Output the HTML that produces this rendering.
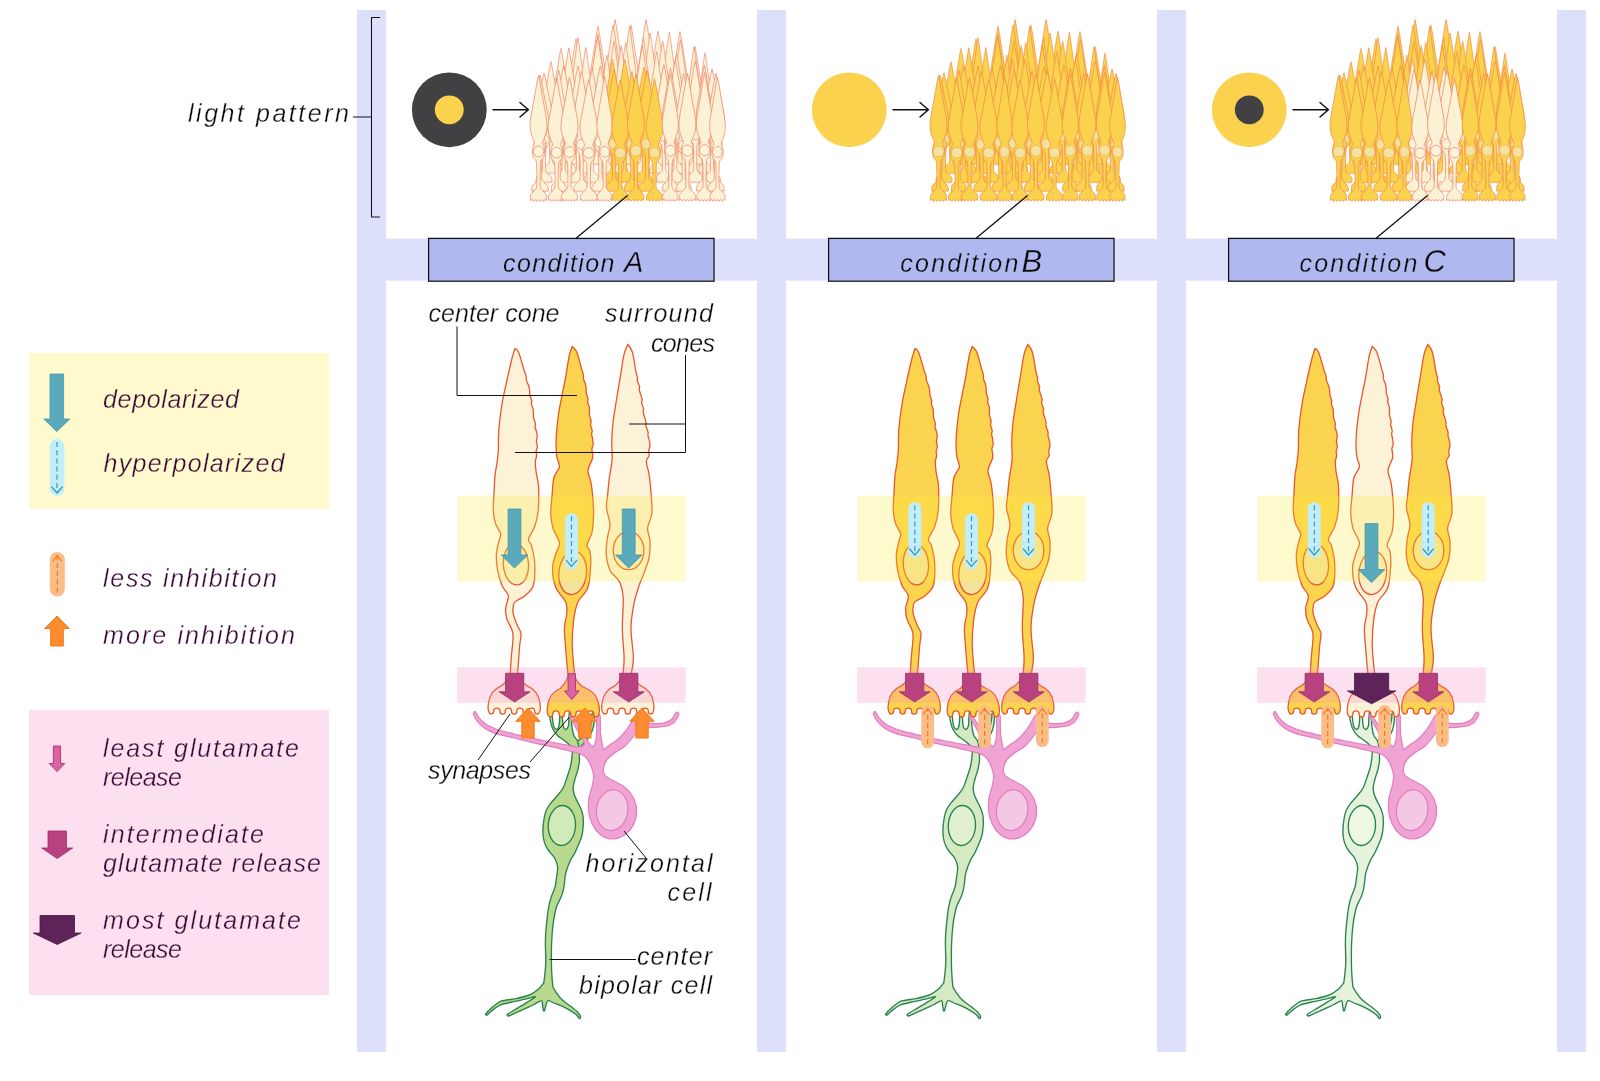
<!DOCTYPE html>
<html><head><meta charset="utf-8"><title>Center-surround cone responses</title>
<style>
html,body{margin:0;padding:0;background:#fff;}
body{width:1600px;height:1081px;overflow:hidden;font-family:"Liberation Sans",sans-serif;}
svg{display:block;will-change:transform;}
text{font-family:"Liberation Sans",sans-serif;font-style:italic;}
.lb{fill:#0a0a0a;}
.lg{fill:#3a0a38;}
</style></head><body>
<svg width="1600" height="1081" viewBox="0 0 1600 1081">
<defs><g id="mcl"><path d="M0,0C0.2,1.3 1,5 1.5,8C2,11 2.5,14.7 3,18C3.5,21.3 4.1,24.7 4.6,28C5.1,31.3 5.7,34.8 6.2,38C6.7,41.2 7.2,44.2 7.4,47C7.6,49.8 7.5,52.5 7.2,55C6.9,57.5 6,59.9 5.4,62C4.8,64.1 3.7,66 3.6,67.5C3.5,69 4.5,69.5 4.8,71C5.1,72.5 5.5,74.7 5.4,76.5C5.3,78.3 5,80.4 4.4,82C3.8,83.6 2.5,83.8 2,86C1.5,88.2 1.6,91.8 1.5,95C1.4,98.2 1.4,102.2 1.4,105C1.4,107.8 1.3,110.3 1.6,112C1.9,113.7 2.6,113.9 3.4,115C4.2,116.1 5.8,117.3 6.4,118.5C7,119.7 7.1,121.4 7.2,122L7.0,125.2L5.6,124L4.4,126L2.8,124.2L1.4,126L0,124.2L-1.4,126L-2.8,124.2L-4.4,126L-5.6,124L-7.0,125.2L-7.2,122C-7.1,121.4 -7,119.7 -6.4,118.5C-5.8,117.3 -4.2,116.1 -3.4,115C-2.6,113.9 -1.9,113.7 -1.6,112C-1.3,110.3 -1.4,107.8 -1.4,105C-1.4,102.2 -1.4,98.2 -1.5,95C-1.6,91.8 -1.5,88.2 -2,86C-2.5,83.8 -3.8,83.6 -4.4,82C-5,80.4 -5.3,78.3 -5.4,76.5C-5.5,74.7 -5.1,72.5 -4.8,71C-4.5,69.5 -3.5,69 -3.6,67.5C-3.7,66 -4.8,64.1 -5.4,62C-6,59.9 -6.9,57.5 -7.2,55C-7.5,52.5 -7.6,49.8 -7.4,47C-7.2,44.2 -6.7,41.2 -6.2,38C-5.7,34.8 -5.1,31.3 -4.6,28C-4.1,24.7 -3.5,21.3 -3,18C-2.5,14.7 -2,11 -1.5,8C-1,5 -0.2,1.3 0,0Z" fill="#fbf1d4" stroke="#ef8468" stroke-width="0.7"/><ellipse cx="0" cy="76" rx="4.7" ry="5.4" fill="#fbf3da" stroke="#ef8468" stroke-width="0.7"/></g><g id="mcs"><path d="M0,0C0.2,1.3 1,5 1.5,8C2,11 2.5,14.7 3,18C3.5,21.3 4.1,24.7 4.6,28C5.1,31.3 5.7,34.8 6.2,38C6.7,41.2 7.2,44.2 7.4,47C7.6,49.8 7.5,52.5 7.2,55C6.9,57.5 6,59.9 5.4,62C4.8,64.1 3.7,66 3.6,67.5C3.5,69 4.5,69.5 4.8,71C5.1,72.5 5.5,74.7 5.4,76.5C5.3,78.3 5,80.4 4.4,82C3.8,83.6 2.5,83.8 2,86C1.5,88.2 1.6,91.8 1.5,95C1.4,98.2 1.4,102.2 1.4,105C1.4,107.8 1.3,110.3 1.6,112C1.9,113.7 2.6,113.9 3.4,115C4.2,116.1 5.8,117.3 6.4,118.5C7,119.7 7.1,121.4 7.2,122L7.0,125.2L5.6,124L4.4,126L2.8,124.2L1.4,126L0,124.2L-1.4,126L-2.8,124.2L-4.4,126L-5.6,124L-7.0,125.2L-7.2,122C-7.1,121.4 -7,119.7 -6.4,118.5C-5.8,117.3 -4.2,116.1 -3.4,115C-2.6,113.9 -1.9,113.7 -1.6,112C-1.3,110.3 -1.4,107.8 -1.4,105C-1.4,102.2 -1.4,98.2 -1.5,95C-1.6,91.8 -1.5,88.2 -2,86C-2.5,83.8 -3.8,83.6 -4.4,82C-5,80.4 -5.3,78.3 -5.4,76.5C-5.5,74.7 -5.1,72.5 -4.8,71C-4.5,69.5 -3.5,69 -3.6,67.5C-3.7,66 -4.8,64.1 -5.4,62C-6,59.9 -6.9,57.5 -7.2,55C-7.5,52.5 -7.6,49.8 -7.4,47C-7.2,44.2 -6.7,41.2 -6.2,38C-5.7,34.8 -5.1,31.3 -4.6,28C-4.1,24.7 -3.5,21.3 -3,18C-2.5,14.7 -2,11 -1.5,8C-1,5 -0.2,1.3 0,0Z" fill="#fbd24e" stroke="#f18a46" stroke-width="0.7"/><ellipse cx="0" cy="76" rx="4.7" ry="5.4" fill="#f3e2a0" stroke="#f09a52" stroke-width="0.5"/></g></defs>
<rect x="0" y="0" width="1600" height="1081" fill="#fff"/>
<rect x="357" y="10" width="29" height="1042" fill="#dde0fb"/>
<rect x="757" y="10" width="29" height="1042" fill="#dde0fb"/>
<rect x="1157" y="10" width="29" height="1042" fill="#dde0fb"/>
<rect x="1557" y="10" width="29" height="1042" fill="#dde0fb"/>
<rect x="357" y="238.7" width="1229" height="41.9" fill="#dde0fb"/>
<rect x="29" y="353" width="300" height="156" fill="#fffacd"/>
<rect x="29" y="710" width="300" height="285" fill="#fde0ef"/>
<path d="M50,374H63.6V419H69.8L56.8,431.5L43.8,419H50Z" fill="#5baabc" stroke="#3f97ab" stroke-width="0.8" stroke-linejoin="round"/><rect x="49.7" y="439" width="14.6" height="57" rx="7.3" fill="#c1eefa"/><path d="M57,442V493" fill="none" stroke="#3f97ab" stroke-width="1.2" stroke-dasharray="5 3.2"/><path d="M51.8,487L57,493L62.2,487" fill="none" stroke="#3f97ab" stroke-width="1.2" stroke-linecap="round" stroke-linejoin="round"/><rect x="49.8" y="552" width="15" height="44.5" rx="7.5" fill="#fbbd88"/><path d="M57.3,592.5V555.5" fill="none" stroke="#f57a17" stroke-width="1.2" stroke-dasharray="5 3.2"/><path d="M53.1,561L57.3,555.5L61.5,561" fill="none" stroke="#f57a17" stroke-width="1.2" stroke-linecap="round" stroke-linejoin="round"/><path d="M50.7,646H63.3V628.5H69.3L57,616L44.7,628.5H50.7Z" fill="#fb8c30" stroke="#f57a17" stroke-width="1" stroke-linejoin="round"/><path d="M53.4,746H60.6V763.5H64.8L57,771.5L49.2,763.5H53.4Z" fill="#dc62a2" stroke="#b03a7b" stroke-width="1" stroke-linejoin="round"/><path d="M48,831H66.5V848H72.7L57.2,858.6L41.7,848H48Z" fill="#b7427f" stroke="#9d2f6b" stroke-width="0.8" stroke-linejoin="round"/><path d="M40,915.5H74.5V933H81.2L57.2,944.5L33.2,933H40Z" fill="#5e2358" stroke="#4a1745" stroke-width="0.8" stroke-linejoin="round"/><text x="103" y="408" font-size="25" class="lg" textLength="136" lengthAdjust="spacing" stroke="#fffacd" stroke-width="0.3">depolarized</text><text x="103.5" y="472" font-size="25" class="lg" textLength="181" lengthAdjust="spacing" stroke="#fffacd" stroke-width="0.3">hyperpolarized</text><text x="103" y="587" font-size="25" class="lg" textLength="174" lengthAdjust="spacing" stroke="#fff" stroke-width="0.3">less inhibition</text><text x="103" y="644" font-size="25" class="lg" textLength="192" lengthAdjust="spacing" stroke="#fff" stroke-width="0.3">more inhibition</text><text x="103" y="757" font-size="25" class="lg" textLength="196" lengthAdjust="spacing" stroke="#fde0ef" stroke-width="0.3">least glutamate</text><text x="103" y="786" font-size="25" class="lg" textLength="79" lengthAdjust="spacing" stroke="#fde0ef" stroke-width="0.3">release</text><text x="103" y="843" font-size="25" class="lg" textLength="161" lengthAdjust="spacing" stroke="#fde0ef" stroke-width="0.3">intermediate</text><text x="103" y="872" font-size="25" class="lg" textLength="218" lengthAdjust="spacing" stroke="#fde0ef" stroke-width="0.3">glutamate release</text><text x="103" y="929" font-size="25" class="lg" textLength="198" lengthAdjust="spacing" stroke="#fde0ef" stroke-width="0.3">most glutamate</text><text x="103" y="958" font-size="25" class="lg" textLength="79" lengthAdjust="spacing" stroke="#fde0ef" stroke-width="0.3">release</text>
<path d="M380,17.5H371.5V217H380M353,117H371.5" fill="none" stroke="#111" stroke-width="1.05"/>
<g transform="translate(0,0)">
<circle cx="449.3" cy="109.8" r="37.4" fill="#414042"/><circle cx="449.3" cy="109.8" r="14.4" fill="#fbd24e"/><path d="M493,109.8H528M520,102.5L528.4,109.8L520,117" fill="none" stroke="#111" stroke-width="1.5" stroke-linecap="round" stroke-linejoin="round"/><use href="#mcl" transform="translate(598,26.1) scale(0.98,0.962)"/><use href="#mcl" transform="translate(615.1,19.6) scale(0.98,1.013)"/><use href="#mcl" transform="translate(631,25) scale(0.93,0.971)"/><use href="#mcl" transform="translate(646.1,19.6) scale(1.00,1.013)"/><use href="#mcl" transform="translate(658,31.2) scale(0.94,0.922)"/><use href="#mcl" transform="translate(576,38.8) scale(0.95,0.932)"/><use href="#mcl" transform="translate(597.9,34.2) scale(0.89,0.969)"/><use href="#mcl" transform="translate(613.1,25.1) scale(0.98,1.041)"/><use href="#mcl" transform="translate(629.6,26.3) scale(0.88,1.032)"/><use href="#mcl" transform="translate(650.2,33) scale(0.86,0.978)"/><use href="#mcl" transform="translate(669.3,32.2) scale(0.89,0.985)"/><use href="#mcl" transform="translate(680,31.5) scale(1.00,0.991)"/><use href="#mcl" transform="translate(561,48.4) scale(1.01,0.928)"/><use href="#mcl" transform="translate(578,37.5) scale(0.89,1.014)"/><use href="#mcl" transform="translate(597.6,37.4) scale(1.01,1.015)"/><use href="#mcl" transform="translate(614,41.3) scale(0.92,0.984)"/><use href="#mcl" transform="translate(625.7,42.8) scale(0.87,0.972)"/><use href="#mcl" transform="translate(643.4,38.3) scale(0.86,1.008)"/><use href="#mcl" transform="translate(662.7,40.9) scale(0.91,0.987)"/><use href="#mcl" transform="translate(680.5,39.5) scale(0.91,0.998)"/><use href="#mcl" transform="translate(695,46.5) scale(0.97,0.943)"/><use href="#mcl" transform="translate(551,61.7) scale(1.02,0.893)"/><use href="#mcl" transform="translate(568.8,47.8) scale(1.00,1.004)"/><use href="#mcl" transform="translate(585.8,47.4) scale(0.92,1.007)"/><use href="#mcl" transform="translate(606.9,55.2) scale(0.87,0.945)"/><use href="#mcl" transform="translate(621.2,45.7) scale(0.89,1.020)"/><use href="#mcl" transform="translate(642.3,46) scale(1.01,1.018)"/><use href="#mcl" transform="translate(656.6,51.8) scale(0.94,0.973)"/><use href="#mcl" transform="translate(676.7,54.2) scale(0.98,0.953)"/><use href="#mcl" transform="translate(694,46.7) scale(0.87,1.013)"/><use href="#mcl" transform="translate(705,52.8) scale(0.87,0.964)"/><use href="#mcl" transform="translate(544,72.9) scale(1.12,0.876)"/><use href="#mcl" transform="translate(563.7,65.9) scale(1.17,0.932)"/><use href="#mcl" transform="translate(577.9,66.2) scale(1.07,0.930)"/><use href="#mcl" transform="translate(592.1,68.5) scale(1.04,0.911)"/><use href="#mcs" transform="translate(612.5,59.3) scale(1.05,0.984)"/><use href="#mcs" transform="translate(624.8,59.4) scale(1.11,0.983)"/><use href="#mcs" transform="translate(644.1,66.9) scale(1.12,0.924)"/><use href="#mcl" transform="translate(663.9,64.7) scale(1.09,0.941)"/><use href="#mcl" transform="translate(675.3,60.1) scale(1.03,0.977)"/><use href="#mcl" transform="translate(695.2,60.9) scale(1.04,0.971)"/><use href="#mcl" transform="translate(712,69) scale(1.17,0.907)"/><use href="#mcl" transform="translate(540,75) scale(1.15,0.931)"/><use href="#mcl" transform="translate(558.8,70) scale(1.04,0.971)"/><use href="#mcl" transform="translate(581.6,71.4) scale(1.09,0.960)"/><use href="#mcl" transform="translate(600.3,65.8) scale(1.18,1.004)"/><use href="#mcs" transform="translate(614.1,69.4) scale(1.14,0.975)"/><use href="#mcs" transform="translate(631.9,71.4) scale(1.08,0.960)"/><use href="#mcs" transform="translate(647.1,70.5) scale(1.18,0.966)"/><use href="#mcl" transform="translate(670.4,68) scale(1.10,0.986)"/><use href="#mcl" transform="translate(683.7,73.4) scale(1.06,0.944)"/><use href="#mcl" transform="translate(704.4,65.6) scale(1.08,1.005)"/><use href="#mcl" transform="translate(716,73.4) scale(1.14,0.943)"/><use href="#mcl" transform="translate(538.5,75.4) scale(1.13,1.000)"/><use href="#mcl" transform="translate(556.6,78.7) scale(1.13,0.973)"/><use href="#mcl" transform="translate(569.5,77.4) scale(1.14,0.983)"/><use href="#mcl" transform="translate(588.7,79.4) scale(1.17,0.968)"/><use href="#mcl" transform="translate(604.6,76.5) scale(1.02,0.991)"/><use href="#mcs" transform="translate(620.2,79.8) scale(1.13,0.964)"/><use href="#mcs" transform="translate(635.9,74.1) scale(1.12,1.009)"/><use href="#mcs" transform="translate(654.5,78.8) scale(1.12,0.972)"/><use href="#mcl" transform="translate(670.3,74) scale(1.08,1.010)"/><use href="#mcl" transform="translate(687.4,73.6) scale(1.13,1.013)"/><use href="#mcl" transform="translate(704.6,72.7) scale(1.10,1.020)"/><use href="#mcl" transform="translate(717.5,77) scale(1.05,0.986)"/><path d="M627.5,195.5L575.8,238.5" stroke="#111" stroke-width="1.3" fill="none"/><rect x="428.6" y="238.4" width="285.4" height="42.8" fill="#b1b8ef" stroke="#111" stroke-width="1.25"/><g fill="#b9d98e" stroke="#27844f" stroke-width="1.35" stroke-linejoin="round" stroke-linecap="round"><path d="M576,742C577.3,741 581.8,738.3 584,736C586.2,733.7 588.2,730.8 589.5,728C590.8,725.2 591.2,721.4 591.6,719C592,716.6 591.6,714.5 592,713.6C592.4,712.7 593.6,712.5 594,713.6C594.4,714.7 594.6,717.3 594.4,720C594.1,722.7 593.7,726.7 592.5,730C591.3,733.3 589.1,737.2 587,740C584.9,742.8 581.2,745.8 580,747"/><path d="M549.6,711.6C549.7,713 549.7,717.2 550.2,720C550.7,722.8 551.3,725.9 552.5,728.5C553.7,731.1 555.4,733.4 557.5,735.5C559.6,737.6 562.7,739.1 565,741C567.3,742.9 570.3,745 571.5,747C572.7,749 572.4,749.9 572.3,753C572.1,756.1 571.5,761.6 570.6,765.8C569.7,770 568,774.3 566.8,778C565.5,781.7 564.7,785 563.1,788C561.5,791 559,793.5 557,796C555,798.5 552.8,800.5 551,802.8C549.2,805.1 547.5,807.5 546.4,810C545.3,812.5 544.8,814.8 544.2,818C543.6,821.2 543.1,825.7 543,829C542.9,832.3 542.9,835.2 543.4,838C543.9,840.8 544.7,843.6 545.8,846C546.9,848.4 548.5,850.4 550,852.4C551.5,854.4 553.3,855.6 554.6,858C555.9,860.4 557.3,863.6 557.6,866.8C557.9,870 557,873.6 556.6,877C556.2,880.4 555.8,884.2 555,887.2C554.2,890.2 552.9,892.6 552,895C551.1,897.4 550.6,898.7 549.9,901.4C549.2,904.1 548.5,907.6 548,911C547.5,914.4 547.2,918.3 546.8,921.8C546.4,925.3 546,928.6 545.8,932C545.6,935.4 545.4,938.6 545.4,942.1C545.4,945.6 545.5,949.6 545.6,953C545.7,956.4 545.9,959.2 545.8,962.5C545.7,965.8 545.3,969.6 545,973C544.7,976.4 544,981.2 543.8,982.8C543.1,983.6 539.7,988.2 538,989.6C536.3,991 532.1,994 529.5,995C526.9,996 519.3,997.9 516,998.6C512.7,999.3 503.8,1000.2 501,1001.2C498.2,1002.2 493.8,1006.1 492,1007.6C490.2,1009.1 486.1,1013.6 485.6,1014.4C485.1,1015.2 486.7,1015.2 487.6,1014.6C488.5,1014 492,1010.5 493.5,1009.4C495,1008.3 498.3,1005.7 500.5,1004.8C502.7,1003.9 509.1,1002.7 512,1002C514.9,1001.3 522.7,999.8 525.5,999.2C528.3,998.6 535.6,996.2 535.8,996.6C536,997 529.2,1001 527,1002.4C524.8,1003.8 519.3,1007 517,1008.4C514.7,1009.8 508.4,1013.5 507.4,1014.4C506.4,1015.3 507.8,1016.1 508.6,1016C509.4,1015.9 512.8,1014.1 514.5,1013.4C516.2,1012.7 520.8,1010.6 523,1009.6C525.2,1008.6 530.9,1006 533,1005C535.1,1004 540.3,1000.6 541.4,1000.6C542.5,1000.6 542.4,1003.8 542.6,1005C542.8,1006.2 543.2,1010 543.4,1010.6C543.6,1011.2 544.3,1011.1 544.6,1010.4C544.9,1009.7 545.6,1006.2 546,1005C546.4,1003.8 547.3,1000.6 548.2,1000.4C549.1,1000.2 552.4,1002.3 554,1003C555.6,1003.7 560.1,1005.3 562,1006.2C563.9,1007.1 568.4,1009.4 570,1010.4C571.6,1011.4 574.9,1013.6 576,1014.6C577.1,1015.6 579.1,1018.4 579.6,1018.6C580.1,1018.8 580.7,1017.2 580.4,1016.4C580.1,1015.6 578.2,1012.8 577,1011.6C575.8,1010.4 571.9,1007.3 570.2,1006C568.5,1004.7 564.1,1001.6 562.6,1000.2C561.1,998.8 558.1,995.2 557,993.6C555.9,992 553.4,987.7 552.9,986.9C552.8,985.2 552.2,980.4 552,977C551.8,973.6 551.6,970 551.5,966.5C551.4,963 551.4,959.4 551.4,956C551.4,952.6 551.4,949.5 551.5,946.2C551.6,942.9 551.8,939.4 552,936C552.2,932.6 552.5,929.3 552.9,925.8C553.3,922.3 553.9,918.4 554.6,915C555.3,911.6 556,908.3 557,905.5C558,902.7 559.6,900.4 560.6,898C561.6,895.6 562.4,893.9 563.1,891.2C563.8,888.5 564.2,885 564.6,882C565,879 564.9,876.4 565.8,872.9C566.7,869.4 568.7,864 570.2,860.7C571.7,857.4 573.4,855.7 574.8,853C576.2,850.3 577.4,847.2 578.6,844.4C579.8,841.6 581,839.1 581.8,836C582.6,832.9 583,829.3 583.2,826C583.4,822.7 583.4,819 583,816C582.6,813 581.5,810.2 580.6,808C579.8,805.8 578.9,805 577.9,802.8C576.9,800.6 575.2,797.5 574.4,795C573.6,792.5 573.1,790.7 573.2,788C573.3,785.3 574.2,782.1 575,779C575.8,775.9 577.2,772.3 577.9,769.5C578.6,766.7 579.1,764.5 579.4,762C579.6,759.5 579.5,757 579.4,754.7C579.3,752.4 579.3,750.3 579,748C578.7,745.7 578.4,743.2 577.5,741C576.6,738.8 574.5,737.3 573.6,735C572.7,732.7 572.4,729.7 572,727C571.6,724.3 571.5,721.3 571.4,719C571.3,716.7 571.3,714 571.3,713C571,711 569.4,711 569.2,713C569.1,714.2 568.9,717.8 568.8,720C568.7,722.2 568.9,724.4 568.4,726C567.9,727.6 566.8,729.3 566,729.5C565.2,729.7 564,728.6 563.4,727C562.8,725.4 562.8,722.2 562.6,720C562.4,717.8 562.3,714.7 562.2,713.6C562,711.6 560,711.6 559.8,713.6C559.8,714.7 559.8,717.9 559.6,720C559.4,722.1 559.3,724.9 558.8,726.5C558.3,728.1 557.3,729.5 556.4,729.4C555.5,729.3 554.2,727.7 553.6,726C553,724.3 552.9,721.3 552.6,719C552.3,716.7 552.1,713.3 552,712.2C551.8,710.4 549.8,710.2 549.6,711.6Z"/><ellipse cx="561.9" cy="825.5" rx="13.6" ry="20" transform="rotate(3 561.9 825.5)" fill="#d2e9b8"/></g><g fill="#f0a4d3" stroke="#e27dbf" stroke-width="1.2" stroke-linejoin="round" stroke-linecap="round"><path d="M475.4,711.6C476.1,712.7 477.6,716 479.4,718.2C481.2,720.4 483.5,722.8 486.4,724.6C489.2,726.5 491.9,727.7 496.5,729.3C501.1,730.9 508,732.5 514,734C520,735.5 526.3,737.1 532.5,738.4C538.7,739.7 545.4,740.9 551,742C556.6,743.1 561.5,744 566,744.8C570.5,745.6 574.9,747.1 578,747C581.1,746.9 584.2,746 584.5,744C584.8,742 581.5,737.8 580,735C578.5,732.2 576.9,729.5 575.5,727C574.1,724.5 572.6,721.9 571.5,720C570.4,718.1 569.1,716.3 568.6,715.6C569,715.5 570,714.2 571,714.8C572,715.4 573.2,717 574.5,719C575.8,721 577.4,723.8 579,726.5C580.6,729.2 582.2,732.2 584,735C585.8,737.8 587.9,741.5 589.5,743.5C591.1,745.5 592.8,746.4 593.5,747C593.9,745.8 595.5,742.8 596,740C596.5,737.2 596.7,733 596.8,730C596.9,727 596.5,724.3 596.5,722C596.5,719.7 596.5,717.4 596.8,716.2C597.1,715 597.8,714.6 598.4,714.6C599,714.6 599.9,714.6 600.2,716.2C600.5,717.8 600.2,721 600.3,724C600.4,727 600.3,730.8 600.6,734C600.9,737.2 601.5,740.3 602,743C602.5,745.7 603.3,748.8 603.6,750C604.5,749.2 606.8,747.2 609,745.5C611.2,743.8 614.5,742.1 617,740C619.5,737.9 621.8,735.6 624,733C626.2,730.4 628.3,727.2 630,724.5C631.7,721.8 633,718.8 634.2,717C635.5,715.2 635.9,713.7 637.5,713.5C639.1,713.3 642.2,714.5 644,716C645.8,717.5 645.8,721.2 648,722.5C650.2,723.8 654,723.6 657,723.6C660,723.6 663.5,723.2 666,722.4C668.5,721.6 670.4,720.6 672,719C673.6,717.4 674.8,713.9 675.8,712.8C676.8,711.7 677.3,711.9 677.8,712.2C678.3,712.5 679.2,713 678.8,714.4C678.4,715.8 677.1,718.8 675.6,720.6C674.1,722.4 672.1,724.2 669.5,725.2C666.9,726.2 663.4,726.5 660,726.9C656.6,727.3 652.2,727.5 649,727.6C645.8,727.7 643.1,726.9 641,727.6C638.9,728.3 638.2,730 636.5,732C634.8,734 633,737.1 631,739.5C629,741.9 627,744.4 624.5,746.5C622,748.6 618.7,750.1 616,752C613.3,753.9 610.4,756 608.5,758C606.6,760 605.2,763 604.6,764C604.4,765.2 603.2,769 603.4,771C603.5,773 603.9,774.4 605.5,776C607.1,777.6 610.1,778.9 613,780.6C615.9,782.3 619.9,783.7 623,786C626.1,788.3 629.3,791.2 631.5,794.5C633.7,797.8 635.5,801.9 636.2,806C636.9,810.1 636.6,815 635.6,819C634.6,823 632.5,827 630,830C627.5,833 623.9,835.7 620.5,837.2C617.1,838.7 613,839.3 609.5,838.8C606,838.3 602.4,836.5 599.5,834C596.6,831.5 594,827.8 592.2,824C590.4,820.2 589.1,815.3 588.6,811C588.1,806.7 588.4,802 589,798C589.6,794 591.2,790.7 592,787C592.8,783.3 593.8,779.5 593.6,776C593.4,772.5 592.2,769 591,766C589.8,763 588.3,760.1 586.5,758C584.7,755.9 581.1,754.2 580,753.5C577.7,753 570.8,751.2 566,750C561.2,748.8 556.6,747.8 551,746.6C545.4,745.4 538.7,744 532.5,742.6C526.3,741.2 520.2,739.5 514,738C507.8,736.5 500.3,735 495.5,733.4C490.7,731.8 488,730.6 485,728.6C482,726.6 479.5,723.9 477.6,721.6C475.7,719.3 474.4,716.6 473.8,715C473.2,713.4 473.5,712.8 473.8,712.2C474.1,711.6 475.1,711.7 475.4,711.6Z"/><ellipse cx="612.2" cy="810.2" rx="15.6" ry="20.4" transform="rotate(8 612.2 810.2)" fill="#f4c8e4"/></g><path d="M514.9,348.5C515.5,349.1 517,348.5 518.6,352.2C520.2,355.9 522.9,366.7 524.2,370.7C525.5,374.7 525.8,374.7 526.1,376.3C526.5,377.9 525.9,378.7 526.4,380.4C526.9,382.1 528.3,384.7 528.9,386.5C529.4,388.3 529.5,389.7 529.7,391.1C529.9,392.5 529.6,393.5 529.9,395C530.2,396.6 531.5,399 531.7,400.5C532,402 531.1,402.4 531.4,403.9C531.6,405.4 532.9,407.8 533.2,409.4C533.5,410.9 533.3,411.9 533.4,413.3C533.5,414.7 533.3,415.9 533.6,417.6C533.9,419.3 535.2,421.8 535.4,423.4C535.7,425 534.8,425.6 535.1,427.2C535.3,428.8 536.6,431.3 536.9,433C537.2,434.7 537.2,435.9 537.1,437.3C537,438.7 536.4,439.8 536.4,441.4C536.5,443.1 537.4,445.5 537.4,447.1C537.4,448.6 536.3,449.2 536.2,450.7C536,452.1 536.7,453.9 536.6,455.8C536.5,457.7 535.4,459.5 535.3,462.3C535.2,465.1 535.7,468.3 536.2,472.5C536.8,476.7 538.3,480.8 538.6,487.3C538.9,493.8 538.7,504.8 538.1,511.3C537.5,517.8 536.4,521.6 534.8,526.3C533.2,530.9 529,536 528.5,539.2C528,542.5 530.6,541.8 531.6,545.8C532.6,549.8 534.4,556.7 534.7,563.3C535,569.9 535,579.9 533.4,585.3C531.8,590.7 528.2,592.8 525.1,595.7C522,598.6 516.5,599.6 514.5,602.5C512.5,605.4 512.6,609.2 513.1,613.2C513.6,617.2 516.4,622.8 517.7,626.2C519,629.6 520.7,630.2 521,633.6C521.3,637 520.1,640 519.6,646.5C519.1,653 518,668.1 517.7,672.4C518.2,678.4 523.7,683.9 527.2,685.9C534.2,688.9 538.9,694.4 539.9,703C540.5,707 540.2,711.5 539.1,712.8C538.5,714.4 535.3,714.6 534.7,712V711C534.7,707.2 528.4,707.2 528.4,711V712C528.4,714.8 523.1,714.8 523.1,712V711C523.1,707.2 516.8,707.2 516.8,711V712C516.8,714.8 511.6,714.8 511.6,712V711C511.6,707.2 505.2,707.2 505.2,711V712C505.2,714.8 500,714.8 500,712V711C500,707.2 493.7,707.2 493.7,711V712C493.1,714.6 489.9,714.4 489.3,712.8C488.2,711.5 487.9,707 488.5,703C489.5,694.4 494.2,688.9 501.2,685.9C504.3,683.9 509.8,678.4 510.3,672.4C510.5,669.6 511,662.3 511.4,655.8C511.8,649.3 513.7,639.8 512.9,633.6C512.1,627.4 508,623.1 506.8,618.8C505.6,614.5 505.4,611.6 505.7,607.7C505.9,603.9 508.9,599.4 508.3,595.7C507.7,592 503.8,590 502,585.5C500.2,581 498.3,574 497.4,568.8C496.5,563.5 496.1,558.8 496.4,554C496.7,549.2 498.5,543.6 499.2,540.2C499.9,536.8 501.2,536.5 500.6,533.7C500,530.9 496.7,527.2 495.5,523.5C494.3,519.8 493.6,516.4 493.3,511.3C493.1,506.2 493.7,499 494,492.8C494.3,486.6 494.6,479.2 495.1,474.3C495.6,469.4 496.5,467.2 497,463.2C497.5,459.2 498,455.9 498.3,450.3C498.6,444.8 498.2,437.6 498.8,429.9C499.4,422.2 500.7,412 502,404C503.3,396 505.1,388.9 506.6,381.8C508.1,374.7 509.8,367.1 511.2,361.5C512.6,355.9 514.3,350.7 514.9,348.5Z" fill="#fbf2d8" stroke="#e9562c" stroke-width="1.3" stroke-linejoin="round"/><g fill="#faefcc" stroke="#e9562c" stroke-width="1.3"><ellipse cx="515.9" cy="564.4" rx="12.6" ry="20.6" transform="rotate(-4 515.9 564.4)"/></g><path d="M572.3,346.3C573.1,347.3 575.3,348.4 576.9,352.2C578.5,356 580.5,365.2 581.6,368.9C582.7,372.6 583,372.9 583.3,374.5C583.6,376.1 583,376.9 583.4,378.5C583.7,380.2 585.1,382.9 585.6,384.6C586.1,386.4 586.1,387.8 586.2,389.2C586.3,390.6 586,391.6 586.3,393.1C586.6,394.7 587.8,397.1 588.1,398.6C588.3,400.1 587.4,400.5 587.6,402C587.9,403.5 589.1,405.9 589.4,407.5C589.7,409 589.5,410.1 589.5,411.4C589.5,412.7 589.2,413.9 589.5,415.5C589.8,417.2 590.9,419.6 591.1,421.2C591.3,422.7 590.4,423.3 590.6,424.8C590.7,426.3 592,428.9 592.2,430.4C592.4,432 591.5,432.6 591.6,434.1C591.7,435.5 592.5,437.4 592.7,439.2C592.9,441 593.2,443.2 593.1,444.8C593,446.4 591.9,447.2 591.9,448.9C591.8,450.5 592.8,453.2 592.8,454.9C592.8,456.7 592.9,456.9 592.1,459.5C591.3,462.1 588.2,466.9 588,470.6C587.8,474.3 590,477.4 590.8,481.7C591.6,486 592.2,491.2 592.7,496.5C593.2,501.8 593.7,507.4 593.6,513.3C593.5,519.2 593.2,526.5 592.1,531.8C591,537 587.5,541.6 587.1,544.8C586.7,548 589.3,548.1 589.9,551.2C590.5,554.3 591.1,557.3 590.8,563.3C590.5,569.3 590.1,580.8 588,587.3C585.9,593.8 580.3,596.5 577.9,602.1C575.5,607.7 574.5,613.2 573.6,620.6C572.7,628 572.1,637.4 572.3,646.5C572.5,655.6 574.3,670.2 574.7,675C575.2,681 580.7,686.5 586.3,688.5C593.3,691.5 598,697 599,705.8C599.6,709.8 599.3,714.3 598.2,715.6C597.6,717.2 594.4,717.4 593.8,714.8V713.8C593.8,710 587.4,710 587.4,713.8V714.8C587.4,717.6 582.2,717.6 582.2,714.8V713.8C582.2,710 575.9,710 575.9,713.8V714.8C575.9,717.6 570.7,717.6 570.7,714.8V713.8C570.7,710 564.3,710 564.3,713.8V714.8C564.3,717.6 559.1,717.6 559.1,714.8V713.8C559.1,710 552.8,710 552.8,713.8V714.8C552.2,717.4 549,717.2 548.4,715.6C547.3,714.3 547,709.8 547.6,705.8C548.6,697 553.3,691.5 560.3,688.5C562,686.5 567.5,681 568,675C567.6,670.9 566.4,658 565.8,650.2C565.2,642.4 564.2,634.2 564.4,628C564.6,621.8 566.6,617.5 566.8,613.2C567,608.9 567.6,606.4 565.8,602.1C563.9,597.8 557.9,592.8 555.7,587.3C553.5,581.8 552.5,574.3 552.5,568.8C552.5,563.2 554.6,558.3 555.7,554C556.9,549.7 559.9,547.2 559.4,542.9C558.9,538.6 554.3,533 552.9,528.1C551.5,523.2 550.9,518.6 550.7,513.3C550.6,508 551.5,502.4 552,496.5C552.5,490.6 552.6,482.9 553.8,478C555,473.1 558.9,470.6 559.4,466.9C559.9,463.2 557.1,460.7 556.6,455.8C556.1,450.9 555.9,444.1 556.2,437.3C556.5,430.5 557.4,422.2 558.4,415.1C559.4,408 560.9,401.3 562.1,394.8C563.3,388.3 564.6,382.8 565.8,376.3C567,369.8 568.1,360.9 569.2,355.9C570.3,350.9 571.8,347.9 572.3,346.3Z" fill="#fbd44f" stroke="#e9562c" stroke-width="1.3" stroke-linejoin="round"/><g fill="#f3e29e" stroke="#e9562c" stroke-width="1.3"><ellipse cx="572.7" cy="572.9" rx="13.8" ry="21.7" transform="rotate(6 572.7 572.9)"/></g><path d="M627.8,344.4C628.6,345.7 631,347.5 632.4,352.2C633.8,356.9 635.2,368.4 636.1,372.6C637,376.8 637.4,376.1 637.6,377.5C637.8,378.9 637.1,379.5 637.4,381C637.7,382.5 639.2,384.9 639.5,386.4C639.8,387.9 639.1,388.5 639.3,389.9C639.5,391.3 640.3,393.2 640.8,394.8C641.3,396.4 641.9,398.3 642.1,399.7C642.2,401.1 641.5,401.7 641.7,403.2C642,404.7 643.3,407.1 643.6,408.6C643.8,410.1 643.1,410.7 643.2,412.1C643.4,413.5 644,415.3 644.5,417C645,418.7 645.8,420.8 646,422.3C646.3,423.8 645.6,424.5 646,426.1C646.3,427.7 647.7,430.3 648,431.9C648.4,433.5 647.7,434.2 648,435.7C648.2,437.2 649.2,439.2 649.5,441C649.8,442.8 650.1,444.9 649.9,446.4C649.8,448 648.8,448.8 648.7,450.4C648.5,451.9 649.5,454 649.1,455.8C648.7,457.6 646.3,458.3 646.3,461.4C646.3,464.5 648.3,469.1 649.1,474.3C649.9,479.5 650.5,486.3 651,492.8C651.5,499.3 652.5,507.4 651.9,513.3C651.3,519.2 647.9,523.5 647.6,528.1C647.3,532.7 649.8,536.1 650,541C650.2,545.9 650.2,552.1 649.1,557.7C648,563.3 645,570.1 643.5,574.4C642,578.7 641.3,579 639.8,583.6C638.3,588.2 635.8,594.7 634.3,602.1C632.8,609.5 631.1,618.8 631,628C630.9,637.2 633.3,650.2 633.4,657.6C633.5,665 631.8,669.9 631.5,672.4C632,678.4 637.5,683.9 640.8,685.9C647.8,688.9 652.5,694.4 653.5,703C654.1,707 653.8,711.5 652.7,712.8C652.1,714.4 648.9,714.6 648.3,712V711C648.3,707.2 641.9,707.2 641.9,711V712C641.9,714.8 636.7,714.8 636.7,712V711C636.7,707.2 630.4,707.2 630.4,711V712C630.4,714.8 625.2,714.8 625.2,712V711C625.2,707.2 618.8,707.2 618.8,711V712C618.8,714.8 613.6,714.8 613.6,712V711C613.6,707.2 607.3,707.2 607.3,711V712C606.7,714.6 603.5,714.4 602.9,712.8C601.8,711.5 601.5,707 602.1,703C603.1,694.4 607.8,688.9 614.8,685.9C617.2,683.9 622.7,678.4 623.2,672.4C623.4,669.9 624.2,665 624.1,657.6C624,650.2 622.4,637.9 622.3,628C622.1,618.1 623.7,606.1 623.2,598.4C622.7,590.7 621.7,586.4 619.5,581.8C617.3,577.2 612.4,575.3 610.2,570.7C608,566.1 606.7,559.5 606.2,554C605.8,548.5 606.9,542.3 607.5,537.4C608.1,532.5 610.1,529.3 609.9,524.4C609.7,519.5 606.9,512.6 606.5,508C606.1,503.4 607,501.5 607.5,496.5C608,491.5 608.5,484.2 609.3,478C610.1,471.8 611.7,465.7 612.1,459.5C612.5,453.3 611.6,447.2 611.7,441C611.9,434.8 612.2,429.6 613,422.5C613.8,415.4 615.5,406.2 616.7,398.5C617.9,390.8 619.2,383.7 620.4,376.3C621.6,368.9 622.9,359.4 624.1,354.1C625.3,348.8 627.2,346 627.8,344.4Z" fill="#fbf2d8" stroke="#e9562c" stroke-width="1.3" stroke-linejoin="round"/><g fill="#faefcc" stroke="#e9562c" stroke-width="1.3"><ellipse cx="628.6" cy="550.5" rx="15.3" ry="19.2" transform="rotate(0 628.6 550.5)"/></g><rect x="457.2" y="495.7" width="228.5" height="85.7" fill="#ffeb3c" fill-opacity="0.25"/><rect x="457.2" y="667.3" width="228.5" height="35.4" fill="#f783bf" fill-opacity="0.25"/><path d="M508.1,509H520.9V555H527.8L514.5,568L501.2,555H508.1Z" fill="#5baabc" stroke="#3f97ab" stroke-width="0.8" stroke-linejoin="round"/><rect x="565" y="513.3" width="13" height="56.1" rx="6.5" fill="#c1eefa"/><path d="M571.5,516.3V566.4" fill="none" stroke="#3f97ab" stroke-width="1.2" stroke-dasharray="5 3.2"/><path d="M566.3,560.4L571.5,566.4L576.7,560.4" fill="none" stroke="#3f97ab" stroke-width="1.2" stroke-linecap="round" stroke-linejoin="round"/><path d="M622.3,509H635.1V555H642L628.7,568L615.5,555H622.3Z" fill="#5baabc" stroke="#3f97ab" stroke-width="0.8" stroke-linejoin="round"/><path d="M505.5,673.3H523.8V691.8H530.1L514.6,702L499.1,691.8H505.5Z" fill="#b7427f" stroke="#9d2f6b" stroke-width="0.8" stroke-linejoin="round"/><path d="M568.1,673.7H575.5V690.9H579.2L571.8,699.6L564.4,690.9H568.1Z" fill="#dc62a2" stroke="#b03a7b" stroke-width="1" stroke-linejoin="round"/><path d="M619.6,673.3H637.9V691.8H644.3L628.8,702L613.3,691.8H619.6Z" fill="#b7427f" stroke="#9d2f6b" stroke-width="0.8" stroke-linejoin="round"/><path d="M521.8,738H534.2V721.3H540.2L528,708L515.8,721.3H521.8Z" fill="#fb8c30" stroke="#f57a17" stroke-width="1" stroke-linejoin="round"/><path d="M578.6,738H591V721.3H597L584.8,708L572.6,721.3H578.6Z" fill="#fb8c30" stroke="#f57a17" stroke-width="1" stroke-linejoin="round"/><path d="M635.8,738H648.2V721.3H654.2L642,708L629.8,721.3H635.8Z" fill="#fb8c30" stroke="#f57a17" stroke-width="1" stroke-linejoin="round"/>
</g>
<g transform="translate(400,0)">
<circle cx="449.3" cy="109.8" r="37.4" fill="#fbd24e"/><path d="M493,109.8H528M520,102.5L528.4,109.8L520,117" fill="none" stroke="#111" stroke-width="1.5" stroke-linecap="round" stroke-linejoin="round"/><use href="#mcs" transform="translate(598,26.1) scale(0.98,0.962)"/><use href="#mcs" transform="translate(615.1,19.6) scale(0.98,1.013)"/><use href="#mcs" transform="translate(631,25) scale(0.93,0.971)"/><use href="#mcs" transform="translate(646.1,19.6) scale(1.00,1.013)"/><use href="#mcs" transform="translate(658,31.2) scale(0.94,0.922)"/><use href="#mcs" transform="translate(576,38.8) scale(0.95,0.932)"/><use href="#mcs" transform="translate(597.9,34.2) scale(0.89,0.969)"/><use href="#mcs" transform="translate(613.1,25.1) scale(0.98,1.041)"/><use href="#mcs" transform="translate(629.6,26.3) scale(0.88,1.032)"/><use href="#mcs" transform="translate(650.2,33) scale(0.86,0.978)"/><use href="#mcs" transform="translate(669.3,32.2) scale(0.89,0.985)"/><use href="#mcs" transform="translate(680,31.5) scale(1.00,0.991)"/><use href="#mcs" transform="translate(561,48.4) scale(1.01,0.928)"/><use href="#mcs" transform="translate(578,37.5) scale(0.89,1.014)"/><use href="#mcs" transform="translate(597.6,37.4) scale(1.01,1.015)"/><use href="#mcs" transform="translate(614,41.3) scale(0.92,0.984)"/><use href="#mcs" transform="translate(625.7,42.8) scale(0.87,0.972)"/><use href="#mcs" transform="translate(643.4,38.3) scale(0.86,1.008)"/><use href="#mcs" transform="translate(662.7,40.9) scale(0.91,0.987)"/><use href="#mcs" transform="translate(680.5,39.5) scale(0.91,0.998)"/><use href="#mcs" transform="translate(695,46.5) scale(0.97,0.943)"/><use href="#mcs" transform="translate(551,61.7) scale(1.02,0.893)"/><use href="#mcs" transform="translate(568.8,47.8) scale(1.00,1.004)"/><use href="#mcs" transform="translate(585.8,47.4) scale(0.92,1.007)"/><use href="#mcs" transform="translate(606.9,55.2) scale(0.87,0.945)"/><use href="#mcs" transform="translate(621.2,45.7) scale(0.89,1.020)"/><use href="#mcs" transform="translate(642.3,46) scale(1.01,1.018)"/><use href="#mcs" transform="translate(656.6,51.8) scale(0.94,0.973)"/><use href="#mcs" transform="translate(676.7,54.2) scale(0.98,0.953)"/><use href="#mcs" transform="translate(694,46.7) scale(0.87,1.013)"/><use href="#mcs" transform="translate(705,52.8) scale(0.87,0.964)"/><use href="#mcs" transform="translate(544,72.9) scale(1.12,0.876)"/><use href="#mcs" transform="translate(563.7,65.9) scale(1.17,0.932)"/><use href="#mcs" transform="translate(577.9,66.2) scale(1.07,0.930)"/><use href="#mcs" transform="translate(592.1,68.5) scale(1.04,0.911)"/><use href="#mcs" transform="translate(612.5,59.3) scale(1.05,0.984)"/><use href="#mcs" transform="translate(624.8,59.4) scale(1.11,0.983)"/><use href="#mcs" transform="translate(644.1,66.9) scale(1.12,0.924)"/><use href="#mcs" transform="translate(663.9,64.7) scale(1.09,0.941)"/><use href="#mcs" transform="translate(675.3,60.1) scale(1.03,0.977)"/><use href="#mcs" transform="translate(695.2,60.9) scale(1.04,0.971)"/><use href="#mcs" transform="translate(712,69) scale(1.17,0.907)"/><use href="#mcs" transform="translate(540,75) scale(1.15,0.931)"/><use href="#mcs" transform="translate(558.8,70) scale(1.04,0.971)"/><use href="#mcs" transform="translate(581.6,71.4) scale(1.09,0.960)"/><use href="#mcs" transform="translate(600.3,65.8) scale(1.18,1.004)"/><use href="#mcs" transform="translate(614.1,69.4) scale(1.14,0.975)"/><use href="#mcs" transform="translate(631.9,71.4) scale(1.08,0.960)"/><use href="#mcs" transform="translate(647.1,70.5) scale(1.18,0.966)"/><use href="#mcs" transform="translate(670.4,68) scale(1.10,0.986)"/><use href="#mcs" transform="translate(683.7,73.4) scale(1.06,0.944)"/><use href="#mcs" transform="translate(704.4,65.6) scale(1.08,1.005)"/><use href="#mcs" transform="translate(716,73.4) scale(1.14,0.943)"/><use href="#mcs" transform="translate(538.5,75.4) scale(1.13,1.000)"/><use href="#mcs" transform="translate(556.6,78.7) scale(1.13,0.973)"/><use href="#mcs" transform="translate(569.5,77.4) scale(1.14,0.983)"/><use href="#mcs" transform="translate(588.7,79.4) scale(1.17,0.968)"/><use href="#mcs" transform="translate(604.6,76.5) scale(1.02,0.991)"/><use href="#mcs" transform="translate(620.2,79.8) scale(1.13,0.964)"/><use href="#mcs" transform="translate(635.9,74.1) scale(1.12,1.009)"/><use href="#mcs" transform="translate(654.5,78.8) scale(1.12,0.972)"/><use href="#mcs" transform="translate(670.3,74) scale(1.08,1.010)"/><use href="#mcs" transform="translate(687.4,73.6) scale(1.13,1.013)"/><use href="#mcs" transform="translate(704.6,72.7) scale(1.10,1.020)"/><use href="#mcs" transform="translate(717.5,77) scale(1.05,0.986)"/><path d="M627.5,195.5L575.8,238.5" stroke="#111" stroke-width="1.3" fill="none"/><rect x="428.6" y="238.4" width="285.4" height="42.8" fill="#b1b8ef" stroke="#111" stroke-width="1.25"/><g fill="#d5e9c2" stroke="#27844f" stroke-width="1.35" stroke-linejoin="round" stroke-linecap="round"><path d="M576,742C577.3,741 581.8,738.3 584,736C586.2,733.7 588.2,730.8 589.5,728C590.8,725.2 591.2,721.4 591.6,719C592,716.6 591.6,714.5 592,713.6C592.4,712.7 593.6,712.5 594,713.6C594.4,714.7 594.6,717.3 594.4,720C594.1,722.7 593.7,726.7 592.5,730C591.3,733.3 589.1,737.2 587,740C584.9,742.8 581.2,745.8 580,747"/><path d="M549.6,711.6C549.7,713 549.7,717.2 550.2,720C550.7,722.8 551.3,725.9 552.5,728.5C553.7,731.1 555.4,733.4 557.5,735.5C559.6,737.6 562.7,739.1 565,741C567.3,742.9 570.3,745 571.5,747C572.7,749 572.4,749.9 572.3,753C572.1,756.1 571.5,761.6 570.6,765.8C569.7,770 568,774.3 566.8,778C565.5,781.7 564.7,785 563.1,788C561.5,791 559,793.5 557,796C555,798.5 552.8,800.5 551,802.8C549.2,805.1 547.5,807.5 546.4,810C545.3,812.5 544.8,814.8 544.2,818C543.6,821.2 543.1,825.7 543,829C542.9,832.3 542.9,835.2 543.4,838C543.9,840.8 544.7,843.6 545.8,846C546.9,848.4 548.5,850.4 550,852.4C551.5,854.4 553.3,855.6 554.6,858C555.9,860.4 557.3,863.6 557.6,866.8C557.9,870 557,873.6 556.6,877C556.2,880.4 555.8,884.2 555,887.2C554.2,890.2 552.9,892.6 552,895C551.1,897.4 550.6,898.7 549.9,901.4C549.2,904.1 548.5,907.6 548,911C547.5,914.4 547.2,918.3 546.8,921.8C546.4,925.3 546,928.6 545.8,932C545.6,935.4 545.4,938.6 545.4,942.1C545.4,945.6 545.5,949.6 545.6,953C545.7,956.4 545.9,959.2 545.8,962.5C545.7,965.8 545.3,969.6 545,973C544.7,976.4 544,981.2 543.8,982.8C543.1,983.6 539.7,988.2 538,989.6C536.3,991 532.1,994 529.5,995C526.9,996 519.3,997.9 516,998.6C512.7,999.3 503.8,1000.2 501,1001.2C498.2,1002.2 493.8,1006.1 492,1007.6C490.2,1009.1 486.1,1013.6 485.6,1014.4C485.1,1015.2 486.7,1015.2 487.6,1014.6C488.5,1014 492,1010.5 493.5,1009.4C495,1008.3 498.3,1005.7 500.5,1004.8C502.7,1003.9 509.1,1002.7 512,1002C514.9,1001.3 522.7,999.8 525.5,999.2C528.3,998.6 535.6,996.2 535.8,996.6C536,997 529.2,1001 527,1002.4C524.8,1003.8 519.3,1007 517,1008.4C514.7,1009.8 508.4,1013.5 507.4,1014.4C506.4,1015.3 507.8,1016.1 508.6,1016C509.4,1015.9 512.8,1014.1 514.5,1013.4C516.2,1012.7 520.8,1010.6 523,1009.6C525.2,1008.6 530.9,1006 533,1005C535.1,1004 540.3,1000.6 541.4,1000.6C542.5,1000.6 542.4,1003.8 542.6,1005C542.8,1006.2 543.2,1010 543.4,1010.6C543.6,1011.2 544.3,1011.1 544.6,1010.4C544.9,1009.7 545.6,1006.2 546,1005C546.4,1003.8 547.3,1000.6 548.2,1000.4C549.1,1000.2 552.4,1002.3 554,1003C555.6,1003.7 560.1,1005.3 562,1006.2C563.9,1007.1 568.4,1009.4 570,1010.4C571.6,1011.4 574.9,1013.6 576,1014.6C577.1,1015.6 579.1,1018.4 579.6,1018.6C580.1,1018.8 580.7,1017.2 580.4,1016.4C580.1,1015.6 578.2,1012.8 577,1011.6C575.8,1010.4 571.9,1007.3 570.2,1006C568.5,1004.7 564.1,1001.6 562.6,1000.2C561.1,998.8 558.1,995.2 557,993.6C555.9,992 553.4,987.7 552.9,986.9C552.8,985.2 552.2,980.4 552,977C551.8,973.6 551.6,970 551.5,966.5C551.4,963 551.4,959.4 551.4,956C551.4,952.6 551.4,949.5 551.5,946.2C551.6,942.9 551.8,939.4 552,936C552.2,932.6 552.5,929.3 552.9,925.8C553.3,922.3 553.9,918.4 554.6,915C555.3,911.6 556,908.3 557,905.5C558,902.7 559.6,900.4 560.6,898C561.6,895.6 562.4,893.9 563.1,891.2C563.8,888.5 564.2,885 564.6,882C565,879 564.9,876.4 565.8,872.9C566.7,869.4 568.7,864 570.2,860.7C571.7,857.4 573.4,855.7 574.8,853C576.2,850.3 577.4,847.2 578.6,844.4C579.8,841.6 581,839.1 581.8,836C582.6,832.9 583,829.3 583.2,826C583.4,822.7 583.4,819 583,816C582.6,813 581.5,810.2 580.6,808C579.8,805.8 578.9,805 577.9,802.8C576.9,800.6 575.2,797.5 574.4,795C573.6,792.5 573.1,790.7 573.2,788C573.3,785.3 574.2,782.1 575,779C575.8,775.9 577.2,772.3 577.9,769.5C578.6,766.7 579.1,764.5 579.4,762C579.6,759.5 579.5,757 579.4,754.7C579.3,752.4 579.3,750.3 579,748C578.7,745.7 578.4,743.2 577.5,741C576.6,738.8 574.5,737.3 573.6,735C572.7,732.7 572.4,729.7 572,727C571.6,724.3 571.5,721.3 571.4,719C571.3,716.7 571.3,714 571.3,713C571,711 569.4,711 569.2,713C569.1,714.2 568.9,717.8 568.8,720C568.7,722.2 568.9,724.4 568.4,726C567.9,727.6 566.8,729.3 566,729.5C565.2,729.7 564,728.6 563.4,727C562.8,725.4 562.8,722.2 562.6,720C562.4,717.8 562.3,714.7 562.2,713.6C562,711.6 560,711.6 559.8,713.6C559.8,714.7 559.8,717.9 559.6,720C559.4,722.1 559.3,724.9 558.8,726.5C558.3,728.1 557.3,729.5 556.4,729.4C555.5,729.3 554.2,727.7 553.6,726C553,724.3 552.9,721.3 552.6,719C552.3,716.7 552.1,713.3 552,712.2C551.8,710.4 549.8,710.2 549.6,711.6Z"/><ellipse cx="561.9" cy="825.5" rx="13.6" ry="20" transform="rotate(3 561.9 825.5)" fill="#e2f0d2"/></g><g fill="#f0a4d3" stroke="#e27dbf" stroke-width="1.2" stroke-linejoin="round" stroke-linecap="round"><path d="M475.4,711.6C476.1,712.7 477.6,716 479.4,718.2C481.2,720.4 483.5,722.8 486.4,724.6C489.2,726.5 491.9,727.7 496.5,729.3C501.1,730.9 508,732.5 514,734C520,735.5 526.3,737.1 532.5,738.4C538.7,739.7 545.4,740.9 551,742C556.6,743.1 561.5,744 566,744.8C570.5,745.6 574.9,747.1 578,747C581.1,746.9 584.2,746 584.5,744C584.8,742 581.5,737.8 580,735C578.5,732.2 576.9,729.5 575.5,727C574.1,724.5 572.6,721.9 571.5,720C570.4,718.1 569.1,716.3 568.6,715.6C569,715.5 570,714.2 571,714.8C572,715.4 573.2,717 574.5,719C575.8,721 577.4,723.8 579,726.5C580.6,729.2 582.2,732.2 584,735C585.8,737.8 587.9,741.5 589.5,743.5C591.1,745.5 592.8,746.4 593.5,747C593.9,745.8 595.5,742.8 596,740C596.5,737.2 596.7,733 596.8,730C596.9,727 596.5,724.3 596.5,722C596.5,719.7 596.5,717.4 596.8,716.2C597.1,715 597.8,714.6 598.4,714.6C599,714.6 599.9,714.6 600.2,716.2C600.5,717.8 600.2,721 600.3,724C600.4,727 600.3,730.8 600.6,734C600.9,737.2 601.5,740.3 602,743C602.5,745.7 603.3,748.8 603.6,750C604.5,749.2 606.8,747.2 609,745.5C611.2,743.8 614.5,742.1 617,740C619.5,737.9 621.8,735.6 624,733C626.2,730.4 628.3,727.2 630,724.5C631.7,721.8 633,718.8 634.2,717C635.5,715.2 635.9,713.7 637.5,713.5C639.1,713.3 642.2,714.5 644,716C645.8,717.5 645.8,721.2 648,722.5C650.2,723.8 654,723.6 657,723.6C660,723.6 663.5,723.2 666,722.4C668.5,721.6 670.4,720.6 672,719C673.6,717.4 674.8,713.9 675.8,712.8C676.8,711.7 677.3,711.9 677.8,712.2C678.3,712.5 679.2,713 678.8,714.4C678.4,715.8 677.1,718.8 675.6,720.6C674.1,722.4 672.1,724.2 669.5,725.2C666.9,726.2 663.4,726.5 660,726.9C656.6,727.3 652.2,727.5 649,727.6C645.8,727.7 643.1,726.9 641,727.6C638.9,728.3 638.2,730 636.5,732C634.8,734 633,737.1 631,739.5C629,741.9 627,744.4 624.5,746.5C622,748.6 618.7,750.1 616,752C613.3,753.9 610.4,756 608.5,758C606.6,760 605.2,763 604.6,764C604.4,765.2 603.2,769 603.4,771C603.5,773 603.9,774.4 605.5,776C607.1,777.6 610.1,778.9 613,780.6C615.9,782.3 619.9,783.7 623,786C626.1,788.3 629.3,791.2 631.5,794.5C633.7,797.8 635.5,801.9 636.2,806C636.9,810.1 636.6,815 635.6,819C634.6,823 632.5,827 630,830C627.5,833 623.9,835.7 620.5,837.2C617.1,838.7 613,839.3 609.5,838.8C606,838.3 602.4,836.5 599.5,834C596.6,831.5 594,827.8 592.2,824C590.4,820.2 589.1,815.3 588.6,811C588.1,806.7 588.4,802 589,798C589.6,794 591.2,790.7 592,787C592.8,783.3 593.8,779.5 593.6,776C593.4,772.5 592.2,769 591,766C589.8,763 588.3,760.1 586.5,758C584.7,755.9 581.1,754.2 580,753.5C577.7,753 570.8,751.2 566,750C561.2,748.8 556.6,747.8 551,746.6C545.4,745.4 538.7,744 532.5,742.6C526.3,741.2 520.2,739.5 514,738C507.8,736.5 500.3,735 495.5,733.4C490.7,731.8 488,730.6 485,728.6C482,726.6 479.5,723.9 477.6,721.6C475.7,719.3 474.4,716.6 473.8,715C473.2,713.4 473.5,712.8 473.8,712.2C474.1,711.6 475.1,711.7 475.4,711.6Z"/><ellipse cx="612.2" cy="810.2" rx="15.6" ry="20.4" transform="rotate(8 612.2 810.2)" fill="#f4c8e4"/></g><path d="M514.9,348.5C515.5,349.1 517,348.5 518.6,352.2C520.2,355.9 522.9,366.7 524.2,370.7C525.5,374.7 525.8,374.7 526.1,376.3C526.5,377.9 525.9,378.7 526.4,380.4C526.9,382.1 528.3,384.7 528.9,386.5C529.4,388.3 529.5,389.7 529.7,391.1C529.9,392.5 529.6,393.5 529.9,395C530.2,396.6 531.5,399 531.7,400.5C532,402 531.1,402.4 531.4,403.9C531.6,405.4 532.9,407.8 533.2,409.4C533.5,410.9 533.3,411.9 533.4,413.3C533.5,414.7 533.3,415.9 533.6,417.6C533.9,419.3 535.2,421.8 535.4,423.4C535.7,425 534.8,425.6 535.1,427.2C535.3,428.8 536.6,431.3 536.9,433C537.2,434.7 537.2,435.9 537.1,437.3C537,438.7 536.4,439.8 536.4,441.4C536.5,443.1 537.4,445.5 537.4,447.1C537.4,448.6 536.3,449.2 536.2,450.7C536,452.1 536.7,453.9 536.6,455.8C536.5,457.7 535.4,459.5 535.3,462.3C535.2,465.1 535.7,468.3 536.2,472.5C536.8,476.7 538.3,480.8 538.6,487.3C538.9,493.8 538.7,504.8 538.1,511.3C537.5,517.8 536.4,521.6 534.8,526.3C533.2,530.9 529,536 528.5,539.2C528,542.5 530.6,541.8 531.6,545.8C532.6,549.8 534.4,556.7 534.7,563.3C535,569.9 535,579.9 533.4,585.3C531.8,590.7 528.2,592.8 525.1,595.7C522,598.6 516.5,599.6 514.5,602.5C512.5,605.4 512.6,609.2 513.1,613.2C513.6,617.2 516.4,622.8 517.7,626.2C519,629.6 520.7,630.2 521,633.6C521.3,637 520.1,640 519.6,646.5C519.1,653 518,668.1 517.7,672.4C518.2,678.4 523.7,683.9 527.2,685.9C534.2,688.9 538.9,694.4 539.9,703C540.5,707 540.2,711.5 539.1,712.8C538.5,714.4 535.3,714.6 534.7,712V711C534.7,707.2 528.4,707.2 528.4,711V712C528.4,714.8 523.1,714.8 523.1,712V711C523.1,707.2 516.8,707.2 516.8,711V712C516.8,714.8 511.6,714.8 511.6,712V711C511.6,707.2 505.2,707.2 505.2,711V712C505.2,714.8 500,714.8 500,712V711C500,707.2 493.7,707.2 493.7,711V712C493.1,714.6 489.9,714.4 489.3,712.8C488.2,711.5 487.9,707 488.5,703C489.5,694.4 494.2,688.9 501.2,685.9C504.3,683.9 509.8,678.4 510.3,672.4C510.5,669.6 511,662.3 511.4,655.8C511.8,649.3 513.7,639.8 512.9,633.6C512.1,627.4 508,623.1 506.8,618.8C505.6,614.5 505.4,611.6 505.7,607.7C505.9,603.9 508.9,599.4 508.3,595.7C507.7,592 503.8,590 502,585.5C500.2,581 498.3,574 497.4,568.8C496.5,563.5 496.1,558.8 496.4,554C496.7,549.2 498.5,543.6 499.2,540.2C499.9,536.8 501.2,536.5 500.6,533.7C500,530.9 496.7,527.2 495.5,523.5C494.3,519.8 493.6,516.4 493.3,511.3C493.1,506.2 493.7,499 494,492.8C494.3,486.6 494.6,479.2 495.1,474.3C495.6,469.4 496.5,467.2 497,463.2C497.5,459.2 498,455.9 498.3,450.3C498.6,444.8 498.2,437.6 498.8,429.9C499.4,422.2 500.7,412 502,404C503.3,396 505.1,388.9 506.6,381.8C508.1,374.7 509.8,367.1 511.2,361.5C512.6,355.9 514.3,350.7 514.9,348.5Z" fill="#fbd44f" stroke="#e9562c" stroke-width="1.3" stroke-linejoin="round"/><g fill="#f3e29e" stroke="#e9562c" stroke-width="1.3"><ellipse cx="515.9" cy="564.4" rx="12.6" ry="20.6" transform="rotate(-4 515.9 564.4)"/></g><path d="M572.3,346.3C573.1,347.3 575.3,348.4 576.9,352.2C578.5,356 580.5,365.2 581.6,368.9C582.7,372.6 583,372.9 583.3,374.5C583.6,376.1 583,376.9 583.4,378.5C583.7,380.2 585.1,382.9 585.6,384.6C586.1,386.4 586.1,387.8 586.2,389.2C586.3,390.6 586,391.6 586.3,393.1C586.6,394.7 587.8,397.1 588.1,398.6C588.3,400.1 587.4,400.5 587.6,402C587.9,403.5 589.1,405.9 589.4,407.5C589.7,409 589.5,410.1 589.5,411.4C589.5,412.7 589.2,413.9 589.5,415.5C589.8,417.2 590.9,419.6 591.1,421.2C591.3,422.7 590.4,423.3 590.6,424.8C590.7,426.3 592,428.9 592.2,430.4C592.4,432 591.5,432.6 591.6,434.1C591.7,435.5 592.5,437.4 592.7,439.2C592.9,441 593.2,443.2 593.1,444.8C593,446.4 591.9,447.2 591.9,448.9C591.8,450.5 592.8,453.2 592.8,454.9C592.8,456.7 592.9,456.9 592.1,459.5C591.3,462.1 588.2,466.9 588,470.6C587.8,474.3 590,477.4 590.8,481.7C591.6,486 592.2,491.2 592.7,496.5C593.2,501.8 593.7,507.4 593.6,513.3C593.5,519.2 593.2,526.5 592.1,531.8C591,537 587.5,541.6 587.1,544.8C586.7,548 589.3,548.1 589.9,551.2C590.5,554.3 591.1,557.3 590.8,563.3C590.5,569.3 590.1,580.8 588,587.3C585.9,593.8 580.3,596.5 577.9,602.1C575.5,607.7 574.5,613.2 573.6,620.6C572.7,628 572.1,637.4 572.3,646.5C572.5,655.6 574.3,670.2 574.7,675C575.2,681 580.7,686.5 586.3,688.5C593.3,691.5 598,697 599,705.8C599.6,709.8 599.3,714.3 598.2,715.6C597.6,717.2 594.4,717.4 593.8,714.8V713.8C593.8,710 587.4,710 587.4,713.8V714.8C587.4,717.6 582.2,717.6 582.2,714.8V713.8C582.2,710 575.9,710 575.9,713.8V714.8C575.9,717.6 570.7,717.6 570.7,714.8V713.8C570.7,710 564.3,710 564.3,713.8V714.8C564.3,717.6 559.1,717.6 559.1,714.8V713.8C559.1,710 552.8,710 552.8,713.8V714.8C552.2,717.4 549,717.2 548.4,715.6C547.3,714.3 547,709.8 547.6,705.8C548.6,697 553.3,691.5 560.3,688.5C562,686.5 567.5,681 568,675C567.6,670.9 566.4,658 565.8,650.2C565.2,642.4 564.2,634.2 564.4,628C564.6,621.8 566.6,617.5 566.8,613.2C567,608.9 567.6,606.4 565.8,602.1C563.9,597.8 557.9,592.8 555.7,587.3C553.5,581.8 552.5,574.3 552.5,568.8C552.5,563.2 554.6,558.3 555.7,554C556.9,549.7 559.9,547.2 559.4,542.9C558.9,538.6 554.3,533 552.9,528.1C551.5,523.2 550.9,518.6 550.7,513.3C550.6,508 551.5,502.4 552,496.5C552.5,490.6 552.6,482.9 553.8,478C555,473.1 558.9,470.6 559.4,466.9C559.9,463.2 557.1,460.7 556.6,455.8C556.1,450.9 555.9,444.1 556.2,437.3C556.5,430.5 557.4,422.2 558.4,415.1C559.4,408 560.9,401.3 562.1,394.8C563.3,388.3 564.6,382.8 565.8,376.3C567,369.8 568.1,360.9 569.2,355.9C570.3,350.9 571.8,347.9 572.3,346.3Z" fill="#fbd44f" stroke="#e9562c" stroke-width="1.3" stroke-linejoin="round"/><g fill="#f3e29e" stroke="#e9562c" stroke-width="1.3"><ellipse cx="572.7" cy="572.9" rx="13.8" ry="21.7" transform="rotate(6 572.7 572.9)"/></g><path d="M627.8,344.4C628.6,345.7 631,347.5 632.4,352.2C633.8,356.9 635.2,368.4 636.1,372.6C637,376.8 637.4,376.1 637.6,377.5C637.8,378.9 637.1,379.5 637.4,381C637.7,382.5 639.2,384.9 639.5,386.4C639.8,387.9 639.1,388.5 639.3,389.9C639.5,391.3 640.3,393.2 640.8,394.8C641.3,396.4 641.9,398.3 642.1,399.7C642.2,401.1 641.5,401.7 641.7,403.2C642,404.7 643.3,407.1 643.6,408.6C643.8,410.1 643.1,410.7 643.2,412.1C643.4,413.5 644,415.3 644.5,417C645,418.7 645.8,420.8 646,422.3C646.3,423.8 645.6,424.5 646,426.1C646.3,427.7 647.7,430.3 648,431.9C648.4,433.5 647.7,434.2 648,435.7C648.2,437.2 649.2,439.2 649.5,441C649.8,442.8 650.1,444.9 649.9,446.4C649.8,448 648.8,448.8 648.7,450.4C648.5,451.9 649.5,454 649.1,455.8C648.7,457.6 646.3,458.3 646.3,461.4C646.3,464.5 648.3,469.1 649.1,474.3C649.9,479.5 650.5,486.3 651,492.8C651.5,499.3 652.5,507.4 651.9,513.3C651.3,519.2 647.9,523.5 647.6,528.1C647.3,532.7 649.8,536.1 650,541C650.2,545.9 650.2,552.1 649.1,557.7C648,563.3 645,570.1 643.5,574.4C642,578.7 641.3,579 639.8,583.6C638.3,588.2 635.8,594.7 634.3,602.1C632.8,609.5 631.1,618.8 631,628C630.9,637.2 633.3,650.2 633.4,657.6C633.5,665 631.8,669.9 631.5,672.4C632,678.4 637.5,683.9 640.8,685.9C647.8,688.9 652.5,694.4 653.5,703C654.1,707 653.8,711.5 652.7,712.8C652.1,714.4 648.9,714.6 648.3,712V711C648.3,707.2 641.9,707.2 641.9,711V712C641.9,714.8 636.7,714.8 636.7,712V711C636.7,707.2 630.4,707.2 630.4,711V712C630.4,714.8 625.2,714.8 625.2,712V711C625.2,707.2 618.8,707.2 618.8,711V712C618.8,714.8 613.6,714.8 613.6,712V711C613.6,707.2 607.3,707.2 607.3,711V712C606.7,714.6 603.5,714.4 602.9,712.8C601.8,711.5 601.5,707 602.1,703C603.1,694.4 607.8,688.9 614.8,685.9C617.2,683.9 622.7,678.4 623.2,672.4C623.4,669.9 624.2,665 624.1,657.6C624,650.2 622.4,637.9 622.3,628C622.1,618.1 623.7,606.1 623.2,598.4C622.7,590.7 621.7,586.4 619.5,581.8C617.3,577.2 612.4,575.3 610.2,570.7C608,566.1 606.7,559.5 606.2,554C605.8,548.5 606.9,542.3 607.5,537.4C608.1,532.5 610.1,529.3 609.9,524.4C609.7,519.5 606.9,512.6 606.5,508C606.1,503.4 607,501.5 607.5,496.5C608,491.5 608.5,484.2 609.3,478C610.1,471.8 611.7,465.7 612.1,459.5C612.5,453.3 611.6,447.2 611.7,441C611.9,434.8 612.2,429.6 613,422.5C613.8,415.4 615.5,406.2 616.7,398.5C617.9,390.8 619.2,383.7 620.4,376.3C621.6,368.9 622.9,359.4 624.1,354.1C625.3,348.8 627.2,346 627.8,344.4Z" fill="#fbd44f" stroke="#e9562c" stroke-width="1.3" stroke-linejoin="round"/><g fill="#f3e29e" stroke="#e9562c" stroke-width="1.3"><ellipse cx="628.6" cy="550.5" rx="15.3" ry="19.2" transform="rotate(0 628.6 550.5)"/></g><rect x="457.2" y="495.7" width="228.5" height="85.7" fill="#ffeb3c" fill-opacity="0.25"/><rect x="457.2" y="667.3" width="228.5" height="35.4" fill="#f783bf" fill-opacity="0.25"/><rect x="508.3" y="502.2" width="13" height="55.8" rx="6.5" fill="#c1eefa"/><path d="M514.8,505.2V555" fill="none" stroke="#3f97ab" stroke-width="1.2" stroke-dasharray="5 3.2"/><path d="M509.6,549L514.8,555L520,549" fill="none" stroke="#3f97ab" stroke-width="1.2" stroke-linecap="round" stroke-linejoin="round"/><rect x="565" y="513.3" width="13" height="56.1" rx="6.5" fill="#c1eefa"/><path d="M571.5,516.3V566.4" fill="none" stroke="#3f97ab" stroke-width="1.2" stroke-dasharray="5 3.2"/><path d="M566.3,560.4L571.5,566.4L576.7,560.4" fill="none" stroke="#3f97ab" stroke-width="1.2" stroke-linecap="round" stroke-linejoin="round"/><rect x="622" y="502.2" width="13" height="55.8" rx="6.5" fill="#c1eefa"/><path d="M628.5,505.2V555" fill="none" stroke="#3f97ab" stroke-width="1.2" stroke-dasharray="5 3.2"/><path d="M623.3,549L628.5,555L633.7,549" fill="none" stroke="#3f97ab" stroke-width="1.2" stroke-linecap="round" stroke-linejoin="round"/><path d="M505.5,673.3H523.8V691.8H530.1L514.6,702L499.1,691.8H505.5Z" fill="#b7427f" stroke="#9d2f6b" stroke-width="0.8" stroke-linejoin="round"/><path d="M562.5,673.3H580.8V691.8H587.1L571.6,702L556.1,691.8H562.5Z" fill="#b7427f" stroke="#9d2f6b" stroke-width="0.8" stroke-linejoin="round"/><path d="M619.6,673.3H637.9V691.8H644.3L628.8,702L613.3,691.8H619.6Z" fill="#b7427f" stroke="#9d2f6b" stroke-width="0.8" stroke-linejoin="round"/><rect x="521.3" y="705" width="12.8" height="43.3" rx="6.4" fill="#fbbd88"/><path d="M527.7,744.3V708.5" fill="none" stroke="#f57a17" stroke-width="1.2" stroke-dasharray="5 3.2"/><path d="M523.5,714L527.7,708.5L531.9,714" fill="none" stroke="#f57a17" stroke-width="1.2" stroke-linecap="round" stroke-linejoin="round"/><rect x="578.2" y="705" width="12.8" height="43.3" rx="6.4" fill="#fbbd88"/><path d="M584.6,744.3V708.5" fill="none" stroke="#f57a17" stroke-width="1.2" stroke-dasharray="5 3.2"/><path d="M580.4,714L584.6,708.5L588.8,714" fill="none" stroke="#f57a17" stroke-width="1.2" stroke-linecap="round" stroke-linejoin="round"/><rect x="635.9" y="705" width="12.8" height="42" rx="6.4" fill="#fbbd88"/><path d="M642.3,743V708.5" fill="none" stroke="#f57a17" stroke-width="1.2" stroke-dasharray="5 3.2"/><path d="M638.1,714L642.3,708.5L646.5,714" fill="none" stroke="#f57a17" stroke-width="1.2" stroke-linecap="round" stroke-linejoin="round"/>
</g>
<g transform="translate(800,0)">
<circle cx="449.3" cy="109.8" r="37.4" fill="#fbd24e"/><circle cx="449.3" cy="109.8" r="14.4" fill="#414042"/><path d="M493,109.8H528M520,102.5L528.4,109.8L520,117" fill="none" stroke="#111" stroke-width="1.5" stroke-linecap="round" stroke-linejoin="round"/><use href="#mcs" transform="translate(598,26.1) scale(0.98,0.962)"/><use href="#mcs" transform="translate(615.1,19.6) scale(0.98,1.013)"/><use href="#mcs" transform="translate(631,25) scale(0.93,0.971)"/><use href="#mcs" transform="translate(646.1,19.6) scale(1.00,1.013)"/><use href="#mcs" transform="translate(658,31.2) scale(0.94,0.922)"/><use href="#mcs" transform="translate(576,38.8) scale(0.95,0.932)"/><use href="#mcs" transform="translate(597.9,34.2) scale(0.89,0.969)"/><use href="#mcs" transform="translate(613.1,25.1) scale(0.98,1.041)"/><use href="#mcs" transform="translate(629.6,26.3) scale(0.88,1.032)"/><use href="#mcs" transform="translate(650.2,33) scale(0.86,0.978)"/><use href="#mcs" transform="translate(669.3,32.2) scale(0.89,0.985)"/><use href="#mcs" transform="translate(680,31.5) scale(1.00,0.991)"/><use href="#mcs" transform="translate(561,48.4) scale(1.01,0.928)"/><use href="#mcs" transform="translate(578,37.5) scale(0.89,1.014)"/><use href="#mcs" transform="translate(597.6,37.4) scale(1.01,1.015)"/><use href="#mcs" transform="translate(614,41.3) scale(0.92,0.984)"/><use href="#mcs" transform="translate(625.7,42.8) scale(0.87,0.972)"/><use href="#mcs" transform="translate(643.4,38.3) scale(0.86,1.008)"/><use href="#mcs" transform="translate(662.7,40.9) scale(0.91,0.987)"/><use href="#mcs" transform="translate(680.5,39.5) scale(0.91,0.998)"/><use href="#mcs" transform="translate(695,46.5) scale(0.97,0.943)"/><use href="#mcs" transform="translate(551,61.7) scale(1.02,0.893)"/><use href="#mcs" transform="translate(568.8,47.8) scale(1.00,1.004)"/><use href="#mcs" transform="translate(585.8,47.4) scale(0.92,1.007)"/><use href="#mcs" transform="translate(606.9,55.2) scale(0.87,0.945)"/><use href="#mcs" transform="translate(621.2,45.7) scale(0.89,1.020)"/><use href="#mcs" transform="translate(642.3,46) scale(1.01,1.018)"/><use href="#mcs" transform="translate(656.6,51.8) scale(0.94,0.973)"/><use href="#mcs" transform="translate(676.7,54.2) scale(0.98,0.953)"/><use href="#mcs" transform="translate(694,46.7) scale(0.87,1.013)"/><use href="#mcs" transform="translate(705,52.8) scale(0.87,0.964)"/><use href="#mcs" transform="translate(544,72.9) scale(1.12,0.876)"/><use href="#mcs" transform="translate(563.7,65.9) scale(1.17,0.932)"/><use href="#mcs" transform="translate(577.9,66.2) scale(1.07,0.930)"/><use href="#mcs" transform="translate(592.1,68.5) scale(1.04,0.911)"/><use href="#mcl" transform="translate(612.5,59.3) scale(1.05,0.984)"/><use href="#mcl" transform="translate(624.8,59.4) scale(1.11,0.983)"/><use href="#mcl" transform="translate(644.1,66.9) scale(1.12,0.924)"/><use href="#mcs" transform="translate(663.9,64.7) scale(1.09,0.941)"/><use href="#mcs" transform="translate(675.3,60.1) scale(1.03,0.977)"/><use href="#mcs" transform="translate(695.2,60.9) scale(1.04,0.971)"/><use href="#mcs" transform="translate(712,69) scale(1.17,0.907)"/><use href="#mcs" transform="translate(540,75) scale(1.15,0.931)"/><use href="#mcs" transform="translate(558.8,70) scale(1.04,0.971)"/><use href="#mcs" transform="translate(581.6,71.4) scale(1.09,0.960)"/><use href="#mcs" transform="translate(600.3,65.8) scale(1.18,1.004)"/><use href="#mcl" transform="translate(614.1,69.4) scale(1.14,0.975)"/><use href="#mcl" transform="translate(631.9,71.4) scale(1.08,0.960)"/><use href="#mcl" transform="translate(647.1,70.5) scale(1.18,0.966)"/><use href="#mcs" transform="translate(670.4,68) scale(1.10,0.986)"/><use href="#mcs" transform="translate(683.7,73.4) scale(1.06,0.944)"/><use href="#mcs" transform="translate(704.4,65.6) scale(1.08,1.005)"/><use href="#mcs" transform="translate(716,73.4) scale(1.14,0.943)"/><use href="#mcs" transform="translate(538.5,75.4) scale(1.13,1.000)"/><use href="#mcs" transform="translate(556.6,78.7) scale(1.13,0.973)"/><use href="#mcs" transform="translate(569.5,77.4) scale(1.14,0.983)"/><use href="#mcs" transform="translate(588.7,79.4) scale(1.17,0.968)"/><use href="#mcs" transform="translate(604.6,76.5) scale(1.02,0.991)"/><use href="#mcl" transform="translate(620.2,79.8) scale(1.13,0.964)"/><use href="#mcl" transform="translate(635.9,74.1) scale(1.12,1.009)"/><use href="#mcl" transform="translate(654.5,78.8) scale(1.12,0.972)"/><use href="#mcs" transform="translate(670.3,74) scale(1.08,1.010)"/><use href="#mcs" transform="translate(687.4,73.6) scale(1.13,1.013)"/><use href="#mcs" transform="translate(704.6,72.7) scale(1.10,1.020)"/><use href="#mcs" transform="translate(717.5,77) scale(1.05,0.986)"/><path d="M627.5,195.5L575.8,238.5" stroke="#111" stroke-width="1.3" fill="none"/><rect x="428.6" y="238.4" width="285.4" height="42.8" fill="#b1b8ef" stroke="#111" stroke-width="1.25"/><g fill="#e6f2db" stroke="#27844f" stroke-width="1.35" stroke-linejoin="round" stroke-linecap="round"><path d="M576,742C577.3,741 581.8,738.3 584,736C586.2,733.7 588.2,730.8 589.5,728C590.8,725.2 591.2,721.4 591.6,719C592,716.6 591.6,714.5 592,713.6C592.4,712.7 593.6,712.5 594,713.6C594.4,714.7 594.6,717.3 594.4,720C594.1,722.7 593.7,726.7 592.5,730C591.3,733.3 589.1,737.2 587,740C584.9,742.8 581.2,745.8 580,747"/><path d="M549.6,711.6C549.7,713 549.7,717.2 550.2,720C550.7,722.8 551.3,725.9 552.5,728.5C553.7,731.1 555.4,733.4 557.5,735.5C559.6,737.6 562.7,739.1 565,741C567.3,742.9 570.3,745 571.5,747C572.7,749 572.4,749.9 572.3,753C572.1,756.1 571.5,761.6 570.6,765.8C569.7,770 568,774.3 566.8,778C565.5,781.7 564.7,785 563.1,788C561.5,791 559,793.5 557,796C555,798.5 552.8,800.5 551,802.8C549.2,805.1 547.5,807.5 546.4,810C545.3,812.5 544.8,814.8 544.2,818C543.6,821.2 543.1,825.7 543,829C542.9,832.3 542.9,835.2 543.4,838C543.9,840.8 544.7,843.6 545.8,846C546.9,848.4 548.5,850.4 550,852.4C551.5,854.4 553.3,855.6 554.6,858C555.9,860.4 557.3,863.6 557.6,866.8C557.9,870 557,873.6 556.6,877C556.2,880.4 555.8,884.2 555,887.2C554.2,890.2 552.9,892.6 552,895C551.1,897.4 550.6,898.7 549.9,901.4C549.2,904.1 548.5,907.6 548,911C547.5,914.4 547.2,918.3 546.8,921.8C546.4,925.3 546,928.6 545.8,932C545.6,935.4 545.4,938.6 545.4,942.1C545.4,945.6 545.5,949.6 545.6,953C545.7,956.4 545.9,959.2 545.8,962.5C545.7,965.8 545.3,969.6 545,973C544.7,976.4 544,981.2 543.8,982.8C543.1,983.6 539.7,988.2 538,989.6C536.3,991 532.1,994 529.5,995C526.9,996 519.3,997.9 516,998.6C512.7,999.3 503.8,1000.2 501,1001.2C498.2,1002.2 493.8,1006.1 492,1007.6C490.2,1009.1 486.1,1013.6 485.6,1014.4C485.1,1015.2 486.7,1015.2 487.6,1014.6C488.5,1014 492,1010.5 493.5,1009.4C495,1008.3 498.3,1005.7 500.5,1004.8C502.7,1003.9 509.1,1002.7 512,1002C514.9,1001.3 522.7,999.8 525.5,999.2C528.3,998.6 535.6,996.2 535.8,996.6C536,997 529.2,1001 527,1002.4C524.8,1003.8 519.3,1007 517,1008.4C514.7,1009.8 508.4,1013.5 507.4,1014.4C506.4,1015.3 507.8,1016.1 508.6,1016C509.4,1015.9 512.8,1014.1 514.5,1013.4C516.2,1012.7 520.8,1010.6 523,1009.6C525.2,1008.6 530.9,1006 533,1005C535.1,1004 540.3,1000.6 541.4,1000.6C542.5,1000.6 542.4,1003.8 542.6,1005C542.8,1006.2 543.2,1010 543.4,1010.6C543.6,1011.2 544.3,1011.1 544.6,1010.4C544.9,1009.7 545.6,1006.2 546,1005C546.4,1003.8 547.3,1000.6 548.2,1000.4C549.1,1000.2 552.4,1002.3 554,1003C555.6,1003.7 560.1,1005.3 562,1006.2C563.9,1007.1 568.4,1009.4 570,1010.4C571.6,1011.4 574.9,1013.6 576,1014.6C577.1,1015.6 579.1,1018.4 579.6,1018.6C580.1,1018.8 580.7,1017.2 580.4,1016.4C580.1,1015.6 578.2,1012.8 577,1011.6C575.8,1010.4 571.9,1007.3 570.2,1006C568.5,1004.7 564.1,1001.6 562.6,1000.2C561.1,998.8 558.1,995.2 557,993.6C555.9,992 553.4,987.7 552.9,986.9C552.8,985.2 552.2,980.4 552,977C551.8,973.6 551.6,970 551.5,966.5C551.4,963 551.4,959.4 551.4,956C551.4,952.6 551.4,949.5 551.5,946.2C551.6,942.9 551.8,939.4 552,936C552.2,932.6 552.5,929.3 552.9,925.8C553.3,922.3 553.9,918.4 554.6,915C555.3,911.6 556,908.3 557,905.5C558,902.7 559.6,900.4 560.6,898C561.6,895.6 562.4,893.9 563.1,891.2C563.8,888.5 564.2,885 564.6,882C565,879 564.9,876.4 565.8,872.9C566.7,869.4 568.7,864 570.2,860.7C571.7,857.4 573.4,855.7 574.8,853C576.2,850.3 577.4,847.2 578.6,844.4C579.8,841.6 581,839.1 581.8,836C582.6,832.9 583,829.3 583.2,826C583.4,822.7 583.4,819 583,816C582.6,813 581.5,810.2 580.6,808C579.8,805.8 578.9,805 577.9,802.8C576.9,800.6 575.2,797.5 574.4,795C573.6,792.5 573.1,790.7 573.2,788C573.3,785.3 574.2,782.1 575,779C575.8,775.9 577.2,772.3 577.9,769.5C578.6,766.7 579.1,764.5 579.4,762C579.6,759.5 579.5,757 579.4,754.7C579.3,752.4 579.3,750.3 579,748C578.7,745.7 578.4,743.2 577.5,741C576.6,738.8 574.5,737.3 573.6,735C572.7,732.7 572.4,729.7 572,727C571.6,724.3 571.5,721.3 571.4,719C571.3,716.7 571.3,714 571.3,713C571,711 569.4,711 569.2,713C569.1,714.2 568.9,717.8 568.8,720C568.7,722.2 568.9,724.4 568.4,726C567.9,727.6 566.8,729.3 566,729.5C565.2,729.7 564,728.6 563.4,727C562.8,725.4 562.8,722.2 562.6,720C562.4,717.8 562.3,714.7 562.2,713.6C562,711.6 560,711.6 559.8,713.6C559.8,714.7 559.8,717.9 559.6,720C559.4,722.1 559.3,724.9 558.8,726.5C558.3,728.1 557.3,729.5 556.4,729.4C555.5,729.3 554.2,727.7 553.6,726C553,724.3 552.9,721.3 552.6,719C552.3,716.7 552.1,713.3 552,712.2C551.8,710.4 549.8,710.2 549.6,711.6Z"/><ellipse cx="561.9" cy="825.5" rx="13.6" ry="20" transform="rotate(3 561.9 825.5)" fill="#eef6e4"/></g><g fill="#f0a4d3" stroke="#e27dbf" stroke-width="1.2" stroke-linejoin="round" stroke-linecap="round"><path d="M475.4,711.6C476.1,712.7 477.6,716 479.4,718.2C481.2,720.4 483.5,722.8 486.4,724.6C489.2,726.5 491.9,727.7 496.5,729.3C501.1,730.9 508,732.5 514,734C520,735.5 526.3,737.1 532.5,738.4C538.7,739.7 545.4,740.9 551,742C556.6,743.1 561.5,744 566,744.8C570.5,745.6 574.9,747.1 578,747C581.1,746.9 584.2,746 584.5,744C584.8,742 581.5,737.8 580,735C578.5,732.2 576.9,729.5 575.5,727C574.1,724.5 572.6,721.9 571.5,720C570.4,718.1 569.1,716.3 568.6,715.6C569,715.5 570,714.2 571,714.8C572,715.4 573.2,717 574.5,719C575.8,721 577.4,723.8 579,726.5C580.6,729.2 582.2,732.2 584,735C585.8,737.8 587.9,741.5 589.5,743.5C591.1,745.5 592.8,746.4 593.5,747C593.9,745.8 595.5,742.8 596,740C596.5,737.2 596.7,733 596.8,730C596.9,727 596.5,724.3 596.5,722C596.5,719.7 596.5,717.4 596.8,716.2C597.1,715 597.8,714.6 598.4,714.6C599,714.6 599.9,714.6 600.2,716.2C600.5,717.8 600.2,721 600.3,724C600.4,727 600.3,730.8 600.6,734C600.9,737.2 601.5,740.3 602,743C602.5,745.7 603.3,748.8 603.6,750C604.5,749.2 606.8,747.2 609,745.5C611.2,743.8 614.5,742.1 617,740C619.5,737.9 621.8,735.6 624,733C626.2,730.4 628.3,727.2 630,724.5C631.7,721.8 633,718.8 634.2,717C635.5,715.2 635.9,713.7 637.5,713.5C639.1,713.3 642.2,714.5 644,716C645.8,717.5 645.8,721.2 648,722.5C650.2,723.8 654,723.6 657,723.6C660,723.6 663.5,723.2 666,722.4C668.5,721.6 670.4,720.6 672,719C673.6,717.4 674.8,713.9 675.8,712.8C676.8,711.7 677.3,711.9 677.8,712.2C678.3,712.5 679.2,713 678.8,714.4C678.4,715.8 677.1,718.8 675.6,720.6C674.1,722.4 672.1,724.2 669.5,725.2C666.9,726.2 663.4,726.5 660,726.9C656.6,727.3 652.2,727.5 649,727.6C645.8,727.7 643.1,726.9 641,727.6C638.9,728.3 638.2,730 636.5,732C634.8,734 633,737.1 631,739.5C629,741.9 627,744.4 624.5,746.5C622,748.6 618.7,750.1 616,752C613.3,753.9 610.4,756 608.5,758C606.6,760 605.2,763 604.6,764C604.4,765.2 603.2,769 603.4,771C603.5,773 603.9,774.4 605.5,776C607.1,777.6 610.1,778.9 613,780.6C615.9,782.3 619.9,783.7 623,786C626.1,788.3 629.3,791.2 631.5,794.5C633.7,797.8 635.5,801.9 636.2,806C636.9,810.1 636.6,815 635.6,819C634.6,823 632.5,827 630,830C627.5,833 623.9,835.7 620.5,837.2C617.1,838.7 613,839.3 609.5,838.8C606,838.3 602.4,836.5 599.5,834C596.6,831.5 594,827.8 592.2,824C590.4,820.2 589.1,815.3 588.6,811C588.1,806.7 588.4,802 589,798C589.6,794 591.2,790.7 592,787C592.8,783.3 593.8,779.5 593.6,776C593.4,772.5 592.2,769 591,766C589.8,763 588.3,760.1 586.5,758C584.7,755.9 581.1,754.2 580,753.5C577.7,753 570.8,751.2 566,750C561.2,748.8 556.6,747.8 551,746.6C545.4,745.4 538.7,744 532.5,742.6C526.3,741.2 520.2,739.5 514,738C507.8,736.5 500.3,735 495.5,733.4C490.7,731.8 488,730.6 485,728.6C482,726.6 479.5,723.9 477.6,721.6C475.7,719.3 474.4,716.6 473.8,715C473.2,713.4 473.5,712.8 473.8,712.2C474.1,711.6 475.1,711.7 475.4,711.6Z"/><ellipse cx="612.2" cy="810.2" rx="15.6" ry="20.4" transform="rotate(8 612.2 810.2)" fill="#f4c8e4"/></g><path d="M514.9,348.5C515.5,349.1 517,348.5 518.6,352.2C520.2,355.9 522.9,366.7 524.2,370.7C525.5,374.7 525.8,374.7 526.1,376.3C526.5,377.9 525.9,378.7 526.4,380.4C526.9,382.1 528.3,384.7 528.9,386.5C529.4,388.3 529.5,389.7 529.7,391.1C529.9,392.5 529.6,393.5 529.9,395C530.2,396.6 531.5,399 531.7,400.5C532,402 531.1,402.4 531.4,403.9C531.6,405.4 532.9,407.8 533.2,409.4C533.5,410.9 533.3,411.9 533.4,413.3C533.5,414.7 533.3,415.9 533.6,417.6C533.9,419.3 535.2,421.8 535.4,423.4C535.7,425 534.8,425.6 535.1,427.2C535.3,428.8 536.6,431.3 536.9,433C537.2,434.7 537.2,435.9 537.1,437.3C537,438.7 536.4,439.8 536.4,441.4C536.5,443.1 537.4,445.5 537.4,447.1C537.4,448.6 536.3,449.2 536.2,450.7C536,452.1 536.7,453.9 536.6,455.8C536.5,457.7 535.4,459.5 535.3,462.3C535.2,465.1 535.7,468.3 536.2,472.5C536.8,476.7 538.3,480.8 538.6,487.3C538.9,493.8 538.7,504.8 538.1,511.3C537.5,517.8 536.4,521.6 534.8,526.3C533.2,530.9 529,536 528.5,539.2C528,542.5 530.6,541.8 531.6,545.8C532.6,549.8 534.4,556.7 534.7,563.3C535,569.9 535,579.9 533.4,585.3C531.8,590.7 528.2,592.8 525.1,595.7C522,598.6 516.5,599.6 514.5,602.5C512.5,605.4 512.6,609.2 513.1,613.2C513.6,617.2 516.4,622.8 517.7,626.2C519,629.6 520.7,630.2 521,633.6C521.3,637 520.1,640 519.6,646.5C519.1,653 518,668.1 517.7,672.4C518.2,678.4 523.7,683.9 527.2,685.9C534.2,688.9 538.9,694.4 539.9,703C540.5,707 540.2,711.5 539.1,712.8C538.5,714.4 535.3,714.6 534.7,712V711C534.7,707.2 528.4,707.2 528.4,711V712C528.4,714.8 523.1,714.8 523.1,712V711C523.1,707.2 516.8,707.2 516.8,711V712C516.8,714.8 511.6,714.8 511.6,712V711C511.6,707.2 505.2,707.2 505.2,711V712C505.2,714.8 500,714.8 500,712V711C500,707.2 493.7,707.2 493.7,711V712C493.1,714.6 489.9,714.4 489.3,712.8C488.2,711.5 487.9,707 488.5,703C489.5,694.4 494.2,688.9 501.2,685.9C504.3,683.9 509.8,678.4 510.3,672.4C510.5,669.6 511,662.3 511.4,655.8C511.8,649.3 513.7,639.8 512.9,633.6C512.1,627.4 508,623.1 506.8,618.8C505.6,614.5 505.4,611.6 505.7,607.7C505.9,603.9 508.9,599.4 508.3,595.7C507.7,592 503.8,590 502,585.5C500.2,581 498.3,574 497.4,568.8C496.5,563.5 496.1,558.8 496.4,554C496.7,549.2 498.5,543.6 499.2,540.2C499.9,536.8 501.2,536.5 500.6,533.7C500,530.9 496.7,527.2 495.5,523.5C494.3,519.8 493.6,516.4 493.3,511.3C493.1,506.2 493.7,499 494,492.8C494.3,486.6 494.6,479.2 495.1,474.3C495.6,469.4 496.5,467.2 497,463.2C497.5,459.2 498,455.9 498.3,450.3C498.6,444.8 498.2,437.6 498.8,429.9C499.4,422.2 500.7,412 502,404C503.3,396 505.1,388.9 506.6,381.8C508.1,374.7 509.8,367.1 511.2,361.5C512.6,355.9 514.3,350.7 514.9,348.5Z" fill="#fbd44f" stroke="#e9562c" stroke-width="1.3" stroke-linejoin="round"/><g fill="#f3e29e" stroke="#e9562c" stroke-width="1.3"><ellipse cx="515.9" cy="564.4" rx="12.6" ry="20.6" transform="rotate(-4 515.9 564.4)"/></g><path d="M572.3,346.3C573.1,347.3 575.3,348.4 576.9,352.2C578.5,356 580.5,365.2 581.6,368.9C582.7,372.6 583,372.9 583.3,374.5C583.6,376.1 583,376.9 583.4,378.5C583.7,380.2 585.1,382.9 585.6,384.6C586.1,386.4 586.1,387.8 586.2,389.2C586.3,390.6 586,391.6 586.3,393.1C586.6,394.7 587.8,397.1 588.1,398.6C588.3,400.1 587.4,400.5 587.6,402C587.9,403.5 589.1,405.9 589.4,407.5C589.7,409 589.5,410.1 589.5,411.4C589.5,412.7 589.2,413.9 589.5,415.5C589.8,417.2 590.9,419.6 591.1,421.2C591.3,422.7 590.4,423.3 590.6,424.8C590.7,426.3 592,428.9 592.2,430.4C592.4,432 591.5,432.6 591.6,434.1C591.7,435.5 592.5,437.4 592.7,439.2C592.9,441 593.2,443.2 593.1,444.8C593,446.4 591.9,447.2 591.9,448.9C591.8,450.5 592.8,453.2 592.8,454.9C592.8,456.7 592.9,456.9 592.1,459.5C591.3,462.1 588.2,466.9 588,470.6C587.8,474.3 590,477.4 590.8,481.7C591.6,486 592.2,491.2 592.7,496.5C593.2,501.8 593.7,507.4 593.6,513.3C593.5,519.2 593.2,526.5 592.1,531.8C591,537 587.5,541.6 587.1,544.8C586.7,548 589.3,548.1 589.9,551.2C590.5,554.3 591.1,557.3 590.8,563.3C590.5,569.3 590.1,580.8 588,587.3C585.9,593.8 580.3,596.5 577.9,602.1C575.5,607.7 574.5,613.2 573.6,620.6C572.7,628 572.1,637.4 572.3,646.5C572.5,655.6 574.3,670.2 574.7,675C575.2,681 580.7,686.5 586.3,688.5C593.3,691.5 598,697 599,705.8C599.6,709.8 599.3,714.3 598.2,715.6C597.6,717.2 594.4,717.4 593.8,714.8V713.8C593.8,710 587.4,710 587.4,713.8V714.8C587.4,717.6 582.2,717.6 582.2,714.8V713.8C582.2,710 575.9,710 575.9,713.8V714.8C575.9,717.6 570.7,717.6 570.7,714.8V713.8C570.7,710 564.3,710 564.3,713.8V714.8C564.3,717.6 559.1,717.6 559.1,714.8V713.8C559.1,710 552.8,710 552.8,713.8V714.8C552.2,717.4 549,717.2 548.4,715.6C547.3,714.3 547,709.8 547.6,705.8C548.6,697 553.3,691.5 560.3,688.5C562,686.5 567.5,681 568,675C567.6,670.9 566.4,658 565.8,650.2C565.2,642.4 564.2,634.2 564.4,628C564.6,621.8 566.6,617.5 566.8,613.2C567,608.9 567.6,606.4 565.8,602.1C563.9,597.8 557.9,592.8 555.7,587.3C553.5,581.8 552.5,574.3 552.5,568.8C552.5,563.2 554.6,558.3 555.7,554C556.9,549.7 559.9,547.2 559.4,542.9C558.9,538.6 554.3,533 552.9,528.1C551.5,523.2 550.9,518.6 550.7,513.3C550.6,508 551.5,502.4 552,496.5C552.5,490.6 552.6,482.9 553.8,478C555,473.1 558.9,470.6 559.4,466.9C559.9,463.2 557.1,460.7 556.6,455.8C556.1,450.9 555.9,444.1 556.2,437.3C556.5,430.5 557.4,422.2 558.4,415.1C559.4,408 560.9,401.3 562.1,394.8C563.3,388.3 564.6,382.8 565.8,376.3C567,369.8 568.1,360.9 569.2,355.9C570.3,350.9 571.8,347.9 572.3,346.3Z" fill="#fbf2d8" stroke="#e9562c" stroke-width="1.3" stroke-linejoin="round"/><g fill="#faefcc" stroke="#e9562c" stroke-width="1.3"><ellipse cx="572.7" cy="572.9" rx="13.8" ry="21.7" transform="rotate(6 572.7 572.9)"/></g><path d="M627.8,344.4C628.6,345.7 631,347.5 632.4,352.2C633.8,356.9 635.2,368.4 636.1,372.6C637,376.8 637.4,376.1 637.6,377.5C637.8,378.9 637.1,379.5 637.4,381C637.7,382.5 639.2,384.9 639.5,386.4C639.8,387.9 639.1,388.5 639.3,389.9C639.5,391.3 640.3,393.2 640.8,394.8C641.3,396.4 641.9,398.3 642.1,399.7C642.2,401.1 641.5,401.7 641.7,403.2C642,404.7 643.3,407.1 643.6,408.6C643.8,410.1 643.1,410.7 643.2,412.1C643.4,413.5 644,415.3 644.5,417C645,418.7 645.8,420.8 646,422.3C646.3,423.8 645.6,424.5 646,426.1C646.3,427.7 647.7,430.3 648,431.9C648.4,433.5 647.7,434.2 648,435.7C648.2,437.2 649.2,439.2 649.5,441C649.8,442.8 650.1,444.9 649.9,446.4C649.8,448 648.8,448.8 648.7,450.4C648.5,451.9 649.5,454 649.1,455.8C648.7,457.6 646.3,458.3 646.3,461.4C646.3,464.5 648.3,469.1 649.1,474.3C649.9,479.5 650.5,486.3 651,492.8C651.5,499.3 652.5,507.4 651.9,513.3C651.3,519.2 647.9,523.5 647.6,528.1C647.3,532.7 649.8,536.1 650,541C650.2,545.9 650.2,552.1 649.1,557.7C648,563.3 645,570.1 643.5,574.4C642,578.7 641.3,579 639.8,583.6C638.3,588.2 635.8,594.7 634.3,602.1C632.8,609.5 631.1,618.8 631,628C630.9,637.2 633.3,650.2 633.4,657.6C633.5,665 631.8,669.9 631.5,672.4C632,678.4 637.5,683.9 640.8,685.9C647.8,688.9 652.5,694.4 653.5,703C654.1,707 653.8,711.5 652.7,712.8C652.1,714.4 648.9,714.6 648.3,712V711C648.3,707.2 641.9,707.2 641.9,711V712C641.9,714.8 636.7,714.8 636.7,712V711C636.7,707.2 630.4,707.2 630.4,711V712C630.4,714.8 625.2,714.8 625.2,712V711C625.2,707.2 618.8,707.2 618.8,711V712C618.8,714.8 613.6,714.8 613.6,712V711C613.6,707.2 607.3,707.2 607.3,711V712C606.7,714.6 603.5,714.4 602.9,712.8C601.8,711.5 601.5,707 602.1,703C603.1,694.4 607.8,688.9 614.8,685.9C617.2,683.9 622.7,678.4 623.2,672.4C623.4,669.9 624.2,665 624.1,657.6C624,650.2 622.4,637.9 622.3,628C622.1,618.1 623.7,606.1 623.2,598.4C622.7,590.7 621.7,586.4 619.5,581.8C617.3,577.2 612.4,575.3 610.2,570.7C608,566.1 606.7,559.5 606.2,554C605.8,548.5 606.9,542.3 607.5,537.4C608.1,532.5 610.1,529.3 609.9,524.4C609.7,519.5 606.9,512.6 606.5,508C606.1,503.4 607,501.5 607.5,496.5C608,491.5 608.5,484.2 609.3,478C610.1,471.8 611.7,465.7 612.1,459.5C612.5,453.3 611.6,447.2 611.7,441C611.9,434.8 612.2,429.6 613,422.5C613.8,415.4 615.5,406.2 616.7,398.5C617.9,390.8 619.2,383.7 620.4,376.3C621.6,368.9 622.9,359.4 624.1,354.1C625.3,348.8 627.2,346 627.8,344.4Z" fill="#fbd44f" stroke="#e9562c" stroke-width="1.3" stroke-linejoin="round"/><g fill="#f3e29e" stroke="#e9562c" stroke-width="1.3"><ellipse cx="628.6" cy="550.5" rx="15.3" ry="19.2" transform="rotate(0 628.6 550.5)"/></g><rect x="457.2" y="495.7" width="228.5" height="85.7" fill="#ffeb3c" fill-opacity="0.25"/><rect x="457.2" y="667.3" width="228.5" height="35.4" fill="#f783bf" fill-opacity="0.25"/><rect x="507.8" y="502.2" width="13" height="55.8" rx="6.5" fill="#c1eefa"/><path d="M514.3,505.2V555" fill="none" stroke="#3f97ab" stroke-width="1.2" stroke-dasharray="5 3.2"/><path d="M509.1,549L514.3,555L519.5,549" fill="none" stroke="#3f97ab" stroke-width="1.2" stroke-linecap="round" stroke-linejoin="round"/><path d="M565.1,523.6H577.9V569.6H584.8L571.5,582.6L558.2,569.6H565.1Z" fill="#5baabc" stroke="#3f97ab" stroke-width="0.8" stroke-linejoin="round"/><rect x="621.7" y="502.2" width="13" height="55.8" rx="6.5" fill="#c1eefa"/><path d="M628.2,505.2V555" fill="none" stroke="#3f97ab" stroke-width="1.2" stroke-dasharray="5 3.2"/><path d="M623,549L628.2,555L633.4,549" fill="none" stroke="#3f97ab" stroke-width="1.2" stroke-linecap="round" stroke-linejoin="round"/><path d="M505.1,673.3H523.4V691.8H529.7L514.2,702L498.7,691.8H505.1Z" fill="#b7427f" stroke="#9d2f6b" stroke-width="0.8" stroke-linejoin="round"/><path d="M554.5,673.3H588.7V690.9H595.9L571.6,703.8L547.4,690.9H554.5Z" fill="#5e2358" stroke="#4a1745" stroke-width="0.8" stroke-linejoin="round"/><path d="M619.2,673.3H637.5V691.8H643.9L628.4,702L612.9,691.8H619.2Z" fill="#b7427f" stroke="#9d2f6b" stroke-width="0.8" stroke-linejoin="round"/><rect x="521.3" y="705" width="12.8" height="43.3" rx="6.4" fill="#fbbd88"/><path d="M527.7,744.3V708.5" fill="none" stroke="#f57a17" stroke-width="1.2" stroke-dasharray="5 3.2"/><path d="M523.5,714L527.7,708.5L531.9,714" fill="none" stroke="#f57a17" stroke-width="1.2" stroke-linecap="round" stroke-linejoin="round"/><rect x="578.2" y="705" width="12.8" height="43.3" rx="6.4" fill="#fbbd88"/><path d="M584.6,744.3V708.5" fill="none" stroke="#f57a17" stroke-width="1.2" stroke-dasharray="5 3.2"/><path d="M580.4,714L584.6,708.5L588.8,714" fill="none" stroke="#f57a17" stroke-width="1.2" stroke-linecap="round" stroke-linejoin="round"/><rect x="635.9" y="705" width="12.8" height="42" rx="6.4" fill="#fbbd88"/><path d="M642.3,743V708.5" fill="none" stroke="#f57a17" stroke-width="1.2" stroke-dasharray="5 3.2"/><path d="M638.1,714L642.3,708.5L646.5,714" fill="none" stroke="#f57a17" stroke-width="1.2" stroke-linecap="round" stroke-linejoin="round"/>
</g>
<text x="188" y="122" font-size="25" class="lb" textLength="161" lengthAdjust="spacing" stroke="#fff" stroke-width="0.3">light pattern</text><text x="503" y="272" font-size="25" class="lb" textLength="111.5" lengthAdjust="spacing" stroke="#b1b8ef" stroke-width="0.3">condition</text><text x="624" y="272" font-size="29" class="lb" stroke="#b1b8ef" stroke-width="0.3">A</text><text x="900.3" y="272" font-size="25" class="lb" textLength="118" lengthAdjust="spacing" stroke="#b1b8ef" stroke-width="0.3">condition</text><text x="1021.5" y="272" font-size="31" class="lb" stroke="#b1b8ef" stroke-width="0.3">B</text><text x="1299.4" y="272" font-size="25" class="lb" textLength="118" lengthAdjust="spacing" stroke="#b1b8ef" stroke-width="0.3">condition</text><text x="1423.5" y="272" font-size="31" class="lb" stroke="#b1b8ef" stroke-width="0.3">C</text><text x="428.5" y="322" font-size="25" class="lb" textLength="131" lengthAdjust="spacing" stroke="#fff" stroke-width="0.3">center cone</text><text x="605" y="322" font-size="25" class="lb" textLength="108" lengthAdjust="spacing" stroke="#fff" stroke-width="0.3">surround</text><text x="651" y="352" font-size="25" class="lb" textLength="64" lengthAdjust="spacing" stroke="#fff" stroke-width="0.3">cones</text><text x="428" y="779" font-size="25" class="lb" textLength="103" lengthAdjust="spacing" stroke="#fff" stroke-width="0.3">synapses</text><text x="585.5" y="872" font-size="25" class="lb" textLength="127" lengthAdjust="spacing" stroke="#fff" stroke-width="0.3">horizontal</text><text x="667.5" y="901" font-size="25" class="lb" textLength="44" lengthAdjust="spacing" stroke="#fff" stroke-width="0.3">cell</text><text x="637" y="965" font-size="25" class="lb" textLength="75" lengthAdjust="spacing" stroke="#fff" stroke-width="0.3">center</text><text x="579" y="994" font-size="25" class="lb" textLength="133" lengthAdjust="spacing" stroke="#fff" stroke-width="0.3">bipolar cell</text><g fill="none" stroke="#111" stroke-width="1"><path d="M457,326.5V395.5H577"/><path d="M685.5,355V452.5H515"/><path d="M685.5,424H629"/><path d="M510,714L478,760"/><path d="M569.5,717L530,762"/><path d="M624,831L646,858"/><path d="M549.5,959.5H636"/></g>
</svg></body></html>
